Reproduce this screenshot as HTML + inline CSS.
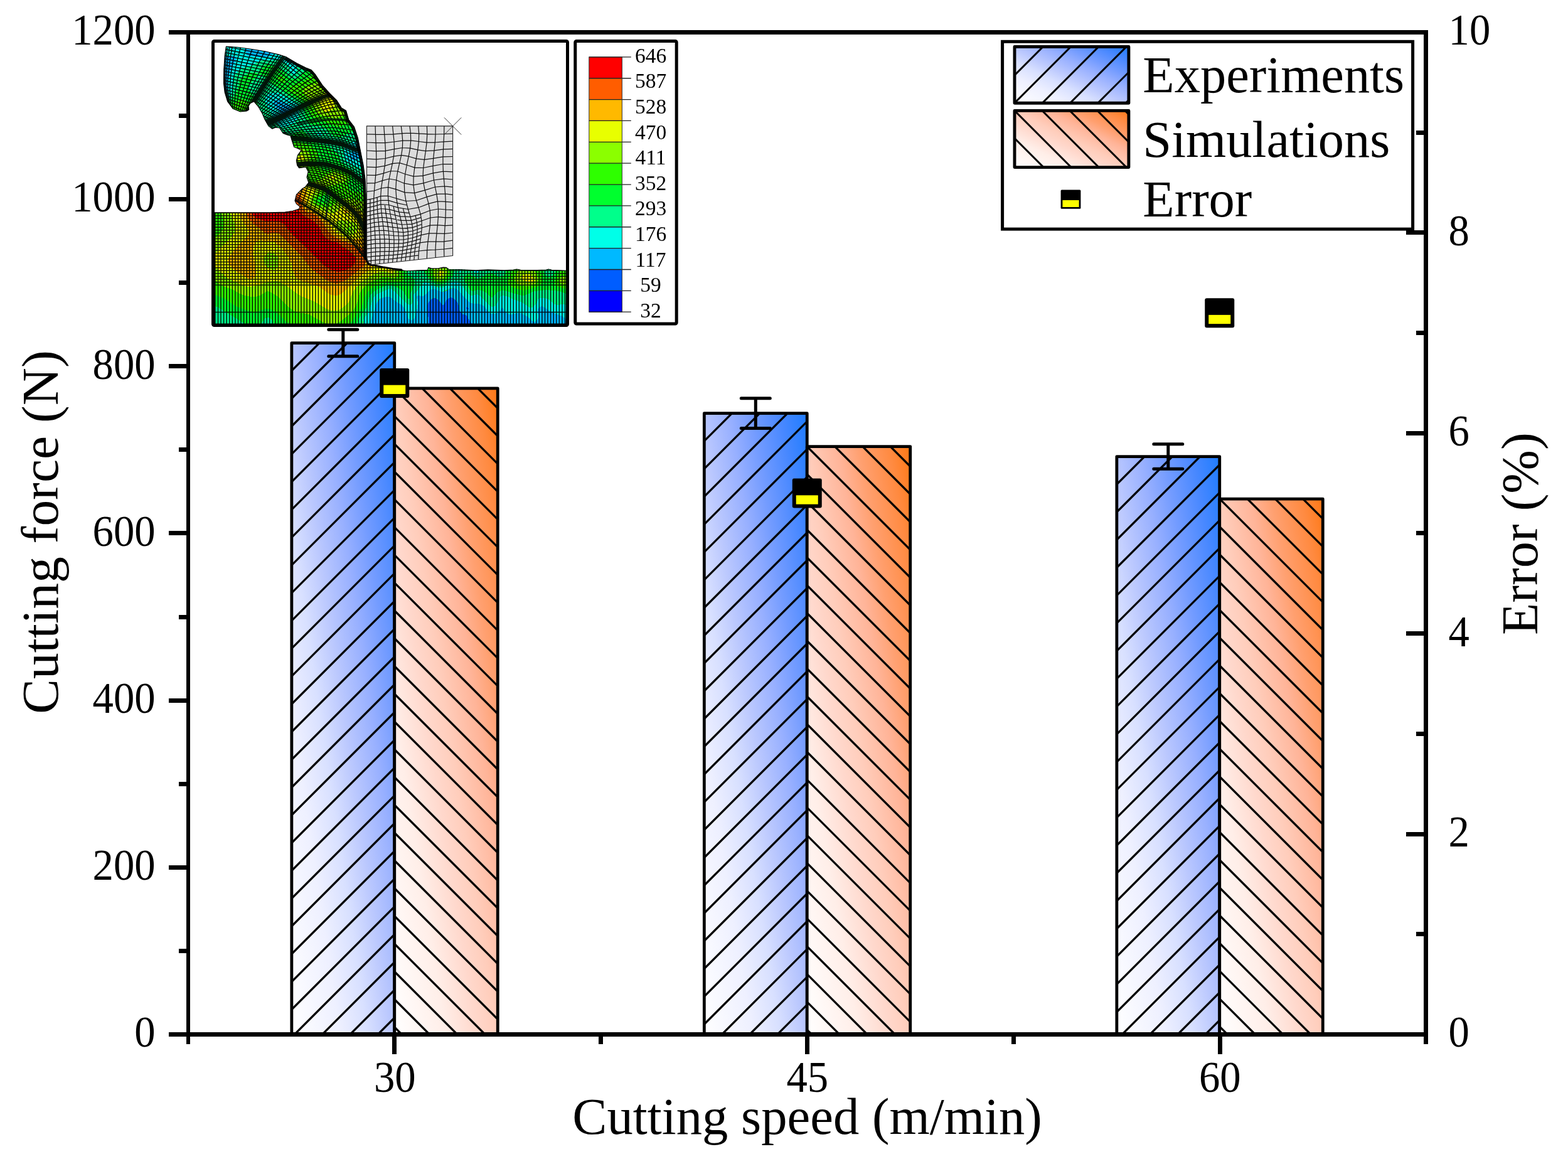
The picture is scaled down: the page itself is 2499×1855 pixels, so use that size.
<!DOCTYPE html>
<html lang="en"><head><meta charset="utf-8"><title>Cutting force vs cutting speed</title>
<style>html,body{margin:0;padding:0;background:#fff;}body{width:2499px;height:1855px;overflow:hidden;}svg{display:block;}text{font-family:'Liberation Serif','Times New Roman',serif;fill:#000;}</style>
</head><body>
<svg width="2499" height="1855" viewBox="0 0 2499 1855" role="img" aria-label="Cutting force and error versus cutting speed">
<defs>
<linearGradient id="gb" x1="0" y1="1" x2="1" y2="0"><stop offset="0" stop-color="#ffffff"/><stop offset="0.235" stop-color="#eef0ff"/><stop offset="0.37" stop-color="#d8e0ff"/><stop offset="0.48" stop-color="#bcc9fe"/><stop offset="0.62" stop-color="#98b0ff"/><stop offset="0.73" stop-color="#749cff"/><stop offset="0.87" stop-color="#4888ff"/><stop offset="1" stop-color="#1e7cff"/></linearGradient>
<linearGradient id="gr" x1="0" y1="1" x2="1" y2="0"><stop offset="0" stop-color="#ffffff"/><stop offset="0.25" stop-color="#ffeee8"/><stop offset="0.4" stop-color="#ffd8cc"/><stop offset="0.5" stop-color="#ffcdbb"/><stop offset="0.65" stop-color="#ffb498"/><stop offset="0.75" stop-color="#ffa070"/><stop offset="0.9" stop-color="#ff8a40"/><stop offset="1" stop-color="#ff7814"/></linearGradient>
</defs>
<rect x="0" y="0" width="2499" height="1855" fill="#ffffff"/>
<g id="bars">
<clipPath id="c1"><rect x="464.85" y="546.57" width="163.90" height="1101.93"/></clipPath>
<rect x="464.85" y="546.57" width="163.90" height="1101.93" fill="url(#gb)"/>
<path d="M459.85 595.83L514.11 541.57M459.85 640.09L558.37 541.57M459.85 684.35L602.63 541.57M459.85 728.61L646.89 541.57M459.85 772.87L691.15 541.57M459.85 817.13L735.41 541.57M459.85 861.39L779.67 541.57M459.85 905.65L823.93 541.57M459.85 949.91L868.19 541.57M459.85 994.17L912.45 541.57M459.85 1038.43L956.71 541.57M459.85 1082.69L1000.97 541.57M459.85 1126.95L1045.23 541.57M459.85 1171.21L1089.49 541.57M459.85 1215.47L1133.75 541.57M459.85 1259.73L1178.01 541.57M459.85 1303.99L1222.27 541.57M459.85 1348.25L1266.53 541.57M459.85 1392.51L1310.79 541.57M459.85 1436.77L1355.05 541.57M459.85 1481.03L1399.31 541.57M459.85 1525.29L1443.57 541.57M459.85 1569.55L1487.83 541.57M459.85 1613.81L1532.09 541.57M459.85 1658.07L1576.35 541.57M459.85 1702.33L1620.61 541.57M459.85 1746.59L1664.87 541.57M459.85 1790.85L1709.13 541.57M459.85 1835.11L1753.39 541.57" stroke="#000" stroke-width="3.30" fill="none" clip-path="url(#c1)"/>
<rect x="464.85" y="546.57" width="163.90" height="1101.93" fill="none" stroke="#000" stroke-width="4.80" stroke-linejoin="round"/>
<clipPath id="c2"><rect x="628.75" y="618.97" width="164.50" height="1029.53"/></clipPath>
<rect x="628.75" y="618.97" width="164.50" height="1029.53" fill="url(#gr)"/>
<path d="M623.75 436.93L798.25 611.43M623.75 481.19L798.25 655.69M623.75 525.45L798.25 699.95M623.75 569.71L798.25 744.21M623.75 613.97L798.25 788.47M623.75 658.23L798.25 832.73M623.75 702.49L798.25 876.99M623.75 746.75L798.25 921.25M623.75 791.01L798.25 965.51M623.75 835.27L798.25 1009.77M623.75 879.53L798.25 1054.03M623.75 923.79L798.25 1098.29M623.75 968.05L798.25 1142.55M623.75 1012.31L798.25 1186.81M623.75 1056.57L798.25 1231.07M623.75 1100.83L798.25 1275.33M623.75 1145.09L798.25 1319.59M623.75 1189.35L798.25 1363.85M623.75 1233.61L798.25 1408.11M623.75 1277.87L798.25 1452.37M623.75 1322.13L798.25 1496.63M623.75 1366.39L798.25 1540.89M623.75 1410.65L798.25 1585.15M623.75 1454.91L798.25 1629.41M623.75 1499.17L798.25 1673.67M623.75 1543.43L798.25 1717.93M623.75 1587.69L798.25 1762.19M623.75 1631.95L798.25 1806.45M623.75 1676.21L798.25 1850.71" stroke="#000" stroke-width="3.30" fill="none" clip-path="url(#c2)"/>
<rect x="628.75" y="618.97" width="164.50" height="1029.53" fill="none" stroke="#000" stroke-width="4.80" stroke-linejoin="round"/>
<clipPath id="c3"><rect x="1122.35" y="658.63" width="163.90" height="989.87"/></clipPath>
<rect x="1122.35" y="658.63" width="163.90" height="989.87" fill="url(#gb)"/>
<path d="M1117.35 707.89L1171.61 653.63M1117.35 752.15L1215.87 653.63M1117.35 796.41L1260.13 653.63M1117.35 840.67L1304.39 653.63M1117.35 884.93L1348.65 653.63M1117.35 929.19L1392.91 653.63M1117.35 973.45L1437.17 653.63M1117.35 1017.71L1481.43 653.63M1117.35 1061.97L1525.69 653.63M1117.35 1106.23L1569.95 653.63M1117.35 1150.49L1614.21 653.63M1117.35 1194.75L1658.47 653.63M1117.35 1239.01L1702.73 653.63M1117.35 1283.27L1746.99 653.63M1117.35 1327.53L1791.25 653.63M1117.35 1371.79L1835.51 653.63M1117.35 1416.05L1879.77 653.63M1117.35 1460.31L1924.03 653.63M1117.35 1504.57L1968.29 653.63M1117.35 1548.83L2012.55 653.63M1117.35 1593.09L2056.81 653.63M1117.35 1637.35L2101.07 653.63M1117.35 1681.61L2145.33 653.63M1117.35 1725.87L2189.59 653.63M1117.35 1770.13L2233.85 653.63M1117.35 1814.39L2278.11 653.63M1117.35 1858.65L2322.37 653.63" stroke="#000" stroke-width="3.30" fill="none" clip-path="url(#c3)"/>
<rect x="1122.35" y="658.63" width="163.90" height="989.87" fill="none" stroke="#000" stroke-width="4.80" stroke-linejoin="round"/>
<clipPath id="c4"><rect x="1286.25" y="711.59" width="164.50" height="936.91"/></clipPath>
<rect x="1286.25" y="711.59" width="164.50" height="936.91" fill="url(#gr)"/>
<path d="M1281.25 529.55L1455.75 704.05M1281.25 573.81L1455.75 748.31M1281.25 618.07L1455.75 792.57M1281.25 662.33L1455.75 836.83M1281.25 706.59L1455.75 881.09M1281.25 750.85L1455.75 925.35M1281.25 795.11L1455.75 969.61M1281.25 839.37L1455.75 1013.87M1281.25 883.63L1455.75 1058.13M1281.25 927.89L1455.75 1102.39M1281.25 972.15L1455.75 1146.65M1281.25 1016.41L1455.75 1190.91M1281.25 1060.67L1455.75 1235.17M1281.25 1104.93L1455.75 1279.43M1281.25 1149.19L1455.75 1323.69M1281.25 1193.45L1455.75 1367.95M1281.25 1237.71L1455.75 1412.21M1281.25 1281.97L1455.75 1456.47M1281.25 1326.23L1455.75 1500.73M1281.25 1370.49L1455.75 1544.99M1281.25 1414.75L1455.75 1589.25M1281.25 1459.01L1455.75 1633.51M1281.25 1503.27L1455.75 1677.77M1281.25 1547.53L1455.75 1722.03M1281.25 1591.79L1455.75 1766.29M1281.25 1636.05L1455.75 1810.55M1281.25 1680.31L1455.75 1854.81" stroke="#000" stroke-width="3.30" fill="none" clip-path="url(#c4)"/>
<rect x="1286.25" y="711.59" width="164.50" height="936.91" fill="none" stroke="#000" stroke-width="4.80" stroke-linejoin="round"/>
<clipPath id="c5"><rect x="1779.85" y="727.56" width="163.90" height="920.94"/></clipPath>
<rect x="1779.85" y="727.56" width="163.90" height="920.94" fill="url(#gb)"/>
<path d="M1774.85 776.82L1829.11 722.56M1774.85 821.08L1873.37 722.56M1774.85 865.34L1917.63 722.56M1774.85 909.60L1961.89 722.56M1774.85 953.86L2006.15 722.56M1774.85 998.12L2050.41 722.56M1774.85 1042.38L2094.67 722.56M1774.85 1086.64L2138.93 722.56M1774.85 1130.90L2183.19 722.56M1774.85 1175.16L2227.45 722.56M1774.85 1219.42L2271.71 722.56M1774.85 1263.68L2315.97 722.56M1774.85 1307.94L2360.23 722.56M1774.85 1352.20L2404.49 722.56M1774.85 1396.46L2448.75 722.56M1774.85 1440.72L2493.01 722.56M1774.85 1484.98L2537.27 722.56M1774.85 1529.24L2581.53 722.56M1774.85 1573.50L2625.79 722.56M1774.85 1617.76L2670.05 722.56M1774.85 1662.02L2714.31 722.56M1774.85 1706.28L2758.57 722.56M1774.85 1750.54L2802.83 722.56M1774.85 1794.80L2847.09 722.56M1774.85 1839.06L2891.35 722.56" stroke="#000" stroke-width="3.30" fill="none" clip-path="url(#c5)"/>
<rect x="1779.85" y="727.56" width="163.90" height="920.94" fill="none" stroke="#000" stroke-width="4.80" stroke-linejoin="round"/>
<clipPath id="c6"><rect x="1943.75" y="795.04" width="164.50" height="853.46"/></clipPath>
<rect x="1943.75" y="795.04" width="164.50" height="853.46" fill="url(#gr)"/>
<path d="M1938.75 613.00L2113.25 787.50M1938.75 657.26L2113.25 831.76M1938.75 701.52L2113.25 876.02M1938.75 745.78L2113.25 920.28M1938.75 790.04L2113.25 964.54M1938.75 834.30L2113.25 1008.80M1938.75 878.56L2113.25 1053.06M1938.75 922.82L2113.25 1097.32M1938.75 967.08L2113.25 1141.58M1938.75 1011.34L2113.25 1185.84M1938.75 1055.60L2113.25 1230.10M1938.75 1099.86L2113.25 1274.36M1938.75 1144.12L2113.25 1318.62M1938.75 1188.38L2113.25 1362.88M1938.75 1232.64L2113.25 1407.14M1938.75 1276.90L2113.25 1451.40M1938.75 1321.16L2113.25 1495.66M1938.75 1365.42L2113.25 1539.92M1938.75 1409.68L2113.25 1584.18M1938.75 1453.94L2113.25 1628.44M1938.75 1498.20L2113.25 1672.70M1938.75 1542.46L2113.25 1716.96M1938.75 1586.72L2113.25 1761.22M1938.75 1630.98L2113.25 1805.48M1938.75 1675.24L2113.25 1849.74" stroke="#000" stroke-width="3.30" fill="none" clip-path="url(#c6)"/>
<rect x="1943.75" y="795.04" width="164.50" height="853.46" fill="none" stroke="#000" stroke-width="4.80" stroke-linejoin="round"/>
</g>
<g id="errorbars" stroke="#000" stroke-width="5" stroke-linecap="round" fill="none">
<path d="M546.80 525.28L546.80 567.86M523.80 525.28L569.80 525.28M523.80 567.86L569.80 567.86" />
<path d="M1204.30 634.80L1204.30 682.45M1181.30 634.80L1227.30 634.80M1181.30 682.45L1227.30 682.45" />
<path d="M1861.80 707.87L1861.80 747.26M1838.80 707.87L1884.80 707.87M1838.80 747.26L1884.80 747.26" />
</g>
<g id="axes" fill="#000" shape-rendering="crispEdges">
<rect x="297" y="48" width="6" height="1616"/>
<rect x="2269" y="48" width="7" height="1616"/>
<rect x="269" y="48" width="2007" height="7"/>
<rect x="269" y="1645" width="2007" height="7"/>
<rect x="285" y="1512" width="14" height="7"/>
<rect x="269" y="1379" width="30" height="7"/>
<rect x="285" y="1246" width="14" height="7"/>
<rect x="269" y="1113" width="30" height="7"/>
<rect x="285" y="980" width="14" height="7"/>
<rect x="269" y="846" width="30" height="7"/>
<rect x="285" y="713" width="14" height="7"/>
<rect x="269" y="580" width="30" height="7"/>
<rect x="285" y="447" width="14" height="7"/>
<rect x="269" y="314" width="30" height="7"/>
<rect x="285" y="181" width="14" height="7"/>
<rect x="2257" y="1485" width="14" height="7"/>
<rect x="2240.5" y="1326" width="30" height="7"/>
<rect x="2257" y="1166" width="14" height="7"/>
<rect x="2240.5" y="1006" width="30" height="7"/>
<rect x="2257" y="846" width="14" height="7"/>
<rect x="2240.5" y="687" width="30" height="7"/>
<rect x="2257" y="527" width="14" height="7"/>
<rect x="2240.5" y="367" width="30" height="7"/>
<rect x="2257" y="208" width="14" height="7"/>
<rect x="625" y="1650" width="7" height="30"/>
<rect x="1283" y="1650" width="7" height="30"/>
<rect x="1941" y="1650" width="7" height="30"/>
<rect x="954" y="1650" width="7" height="14"/>
<rect x="1612" y="1650" width="7" height="14"/>
</g>
<g id="markers">
<rect x="605.25" y="586.95" width="47.00" height="47.00" rx="3.0" ry="3.0" fill="#000"/>
<rect x="611.25" y="613.65" width="35.00" height="14.30" fill="#ffff00"/>
<rect x="1262.75" y="762.62" width="47.00" height="47.00" rx="3.0" ry="3.0" fill="#000"/>
<rect x="1268.75" y="789.32" width="35.00" height="14.30" fill="#ffff00"/>
<rect x="1920.25" y="475.16" width="47.00" height="47.00" rx="3.0" ry="3.0" fill="#000"/>
<rect x="1926.25" y="501.86" width="35.00" height="14.30" fill="#ffff00"/>
</g>
<g id="ticklabels">
<text transform="translate(247.60 1668.30) scale(0.9600 1)" font-size="69.50" text-anchor="end">0</text>
<text transform="translate(247.60 1402.13) scale(0.9600 1)" font-size="69.50" text-anchor="end">200</text>
<text transform="translate(247.60 1135.97) scale(0.9600 1)" font-size="69.50" text-anchor="end">400</text>
<text transform="translate(247.60 869.80) scale(0.9600 1)" font-size="69.50" text-anchor="end">600</text>
<text transform="translate(247.60 603.63) scale(0.9600 1)" font-size="69.50" text-anchor="end">800</text>
<text transform="translate(247.60 337.47) scale(0.9600 1)" font-size="69.50" text-anchor="end">1000</text>
<text transform="translate(247.60 71.30) scale(0.9600 1)" font-size="69.50" text-anchor="end">1200</text>
<text transform="translate(2308.60 1668.30) scale(0.9600 1)" font-size="69.50" text-anchor="start">0</text>
<text transform="translate(2308.60 1348.90) scale(0.9600 1)" font-size="69.50" text-anchor="start">2</text>
<text transform="translate(2308.60 1029.50) scale(0.9600 1)" font-size="69.50" text-anchor="start">4</text>
<text transform="translate(2308.60 710.10) scale(0.9600 1)" font-size="69.50" text-anchor="start">6</text>
<text transform="translate(2308.60 390.70) scale(0.9600 1)" font-size="69.50" text-anchor="start">8</text>
<text transform="translate(2308.60 71.30) scale(0.9600 1)" font-size="69.50" text-anchor="start">10</text>
<text transform="translate(629.25 1739.60) scale(0.9600 1)" font-size="69.50" text-anchor="middle">30</text>
<text transform="translate(1286.75 1739.60) scale(0.9600 1)" font-size="69.50" text-anchor="middle">45</text>
<text transform="translate(1944.25 1739.60) scale(0.9600 1)" font-size="69.50" text-anchor="middle">60</text>
</g>
<g id="titles">
<text transform="translate(1286.55 1807.30) scale(0.9960 1)" font-size="83.00" text-anchor="middle">Cutting speed (m/min)</text>
<text transform="translate(91.80 848.00) rotate(-90) scale(1.0060 1)" font-size="83.00" text-anchor="middle">Cutting force (N)</text>
<text transform="translate(2449.80 850.50) rotate(-90) scale(1.0080 1)" font-size="83.00" text-anchor="middle">Error (%)</text>
</g>
<g id="legend">
<rect x="1597.6" y="66.3" width="654" height="298.8" fill="#fff" stroke="#000" stroke-width="5"/>
<clipPath id="c7"><rect x="1617.00" y="74.50" width="181.90" height="89.70"/></clipPath>
<rect x="1617.00" y="74.50" width="181.90" height="89.70" fill="url(#gb)"/>
<path d="M1612.00 124.80L1667.30 69.50M1612.00 169.10L1711.60 69.50M1612.00 213.40L1755.90 69.50M1612.00 257.70L1800.20 69.50M1612.00 302.00L1844.50 69.50M1612.00 346.30L1888.80 69.50M1612.00 390.60L1933.10 69.50" stroke="#000" stroke-width="3.00" fill="none" clip-path="url(#c7)"/>
<rect x="1617.00" y="74.50" width="181.90" height="89.70" fill="none" stroke="#000" stroke-width="4.90" stroke-linejoin="round"/>
<clipPath id="c8"><rect x="1617.00" y="176.40" width="181.90" height="90.20"/></clipPath>
<rect x="1617.00" y="176.40" width="181.90" height="90.20" fill="url(#gr)"/>
<path d="M1612.00 -48.60L1803.90 143.30M1612.00 -4.60L1803.90 187.30M1612.00 39.40L1803.90 231.30M1612.00 83.40L1803.90 275.30M1612.00 127.40L1803.90 319.30M1612.00 171.40L1803.90 363.30M1612.00 215.40L1803.90 407.30M1612.00 259.40L1803.90 451.30M1612.00 303.40L1803.90 495.30" stroke="#000" stroke-width="3.00" fill="none" clip-path="url(#c8)"/>
<rect x="1617.00" y="176.40" width="181.90" height="90.20" fill="none" stroke="#000" stroke-width="4.90" stroke-linejoin="round"/>
<rect x="1690.6" y="302.6" width="31.8" height="30.2" rx="1.5" fill="#000"/>
<rect x="1693.4" y="319" width="26.2" height="11" fill="#ffff00"/>
<text transform="translate(1821.30 147.40) scale(1.0120 1)" font-size="81.50" text-anchor="start">Experiments</text>
<text transform="translate(1821.30 250.20) scale(1.0120 1)" font-size="81.50" text-anchor="start">Simulations</text>
<text transform="translate(1821.30 344.50) scale(1.0120 1)" font-size="81.50" text-anchor="start">Error</text>
</g>
<g id="inset">
<defs>
<clipPath id="cm"><path d="M342.0 516.0L342.0 338.7L430.0 338.7L454.2 338.0L466.3 336.2L476.0 333.2L478.4 329.6L472.4 324.7L470.0 319.9L472.4 310.2L482.1 300.5L486.1 298.3L491.9 291.0L489.0 282.3L491.2 273.6L487.5 266.3L476.7 267.8L473.7 263.4L472.3 256.1L474.5 247.4L480.3 239.4L474.5 236.5L468.7 234.3L465.8 225.6L462.9 216.2L457.0 214.7L451.2 212.5L445.4 203.8L439.6 203.1L433.8 205.3L428.0 200.9L422.2 190.8L417.8 180.6L412.0 170.4L404.7 161.7L398.9 164.6L396.0 169.0L396.7 174.8L393.1 177.0L382.9 178.0L371.3 173.3L362.6 161.7L358.2 147.2L356.5 132.6L356.8 110.8L358.2 89.1L360.4 74.1L378.6 75.3L400.4 78.2L422.2 81.8L444.0 86.9L455.6 90.5L473.0 100.7L487.5 107.9L496.3 111.6L502.1 118.1L513.7 135.5L525.3 148.6L536.9 160.2L544.2 171.9L551.5 176.2L555.8 190.8L564.6 202.4L570.4 219.8L574.7 241.6L579.1 263.4L582.0 285.2L583.2 310.0L583.6 340.0L583.4 370.0L583.3 400.0L584.2 411.0L585.6 417.5L587.5 421.0L592.0 422.4L600.0 423.5L610.0 425.5L620.0 427.3L632.0 429.2L647.6 431.8L667.1 430.8L681.4 430.3L682.7 426.4L688.0 427.9L698.4 427.9L706.2 426.0L711.4 426.4L715.3 429.2L732.2 429.5L758.3 430.8L777.8 429.9L803.9 430.8L818.2 430.0L823.4 429.0L830.0 430.3L856.0 430.5L870.3 430.0L874.2 429.0L879.5 430.3L902.9 431.2L902.0 516.0Z"/></clipPath>
<clipPath id="cw"><path d="M342.0 338.7L430.0 338.7L454.2 338.0L466.3 336.2L476.0 333.2L478.4 324.7L502.6 339.3L526.9 356.2L551.1 376.8L569.2 397.4L578.0 409.0L585.5 419.0L587.5 421.0L592.0 422.4L600.0 423.5L610.0 425.5L620.0 427.3L632.0 429.2L647.6 431.8L667.1 430.8L681.4 430.3L682.7 426.4L688.0 427.9L698.4 427.9L706.2 426.0L711.4 426.4L715.3 429.2L732.2 429.5L758.3 430.8L777.8 429.9L803.9 430.8L818.2 430.0L823.4 429.0L830.0 430.3L856.0 430.5L870.3 430.0L874.2 429.0L879.5 430.3L902.9 431.2L902.0 516.0L342.0 516.0Z"/></clipPath>
<clipPath id="cc"><path d="M360.4 74.1L358.2 89.1L356.8 110.8L356.5 132.6L358.2 147.2L362.6 161.7L371.3 173.3L382.9 178.0L393.1 177.0L396.7 174.8L396.0 169.0L398.9 164.6L404.7 161.7L412.0 170.4L417.8 180.6L422.2 190.8L428.0 200.9L433.8 205.3L439.6 203.1L445.4 203.8L451.2 212.5L457.0 214.7L462.9 216.2L465.8 225.6L468.7 234.3L474.5 236.5L480.3 239.4L474.5 247.4L472.3 256.1L473.7 263.4L476.7 267.8L487.5 266.3L491.2 273.6L489.0 282.3L491.9 291.0L486.1 298.3L482.1 300.5L472.4 310.2L470.0 319.9L472.4 324.7L478.4 329.6L476.0 333.2L476.0 333.2L478.4 324.7L502.6 339.3L526.9 356.2L551.1 376.8L569.2 397.4L578.0 409.0L585.5 419.0L587.5 421.0L585.6 417.5L584.2 411.0L583.3 400.0L583.4 370.0L583.6 340.0L583.2 310.0L582.0 285.2L579.1 263.4L574.7 241.6L570.4 219.8L564.6 202.4L555.8 190.8L551.5 176.2L544.2 171.9L536.9 160.2L525.3 148.6L513.7 135.5L502.1 118.1L496.3 111.6L487.5 107.9L473.0 100.7L455.6 90.5L444.0 86.9L422.2 81.8L400.4 78.2L378.6 75.3L360.4 74.1Z"/></clipPath>
</defs>
<rect x="339.5" y="65.5" width="565" height="453" fill="#fff"/>
<g clip-path="url(#cm)" shape-rendering="crispEdges">
<path d="M342.0 516.0L342.0 338.7L430.0 338.7L454.2 338.0L466.3 336.2L476.0 333.2L478.4 329.6L472.4 324.7L470.0 319.9L472.4 310.2L482.1 300.5L486.1 298.3L491.9 291.0L489.0 282.3L491.2 273.6L487.5 266.3L476.7 267.8L473.7 263.4L472.3 256.1L474.5 247.4L480.3 239.4L474.5 236.5L468.7 234.3L465.8 225.6L462.9 216.2L457.0 214.7L451.2 212.5L445.4 203.8L439.6 203.1L433.8 205.3L428.0 200.9L422.2 190.8L417.8 180.6L412.0 170.4L404.7 161.7L398.9 164.6L396.0 169.0L396.7 174.8L393.1 177.0L382.9 178.0L371.3 173.3L362.6 161.7L358.2 147.2L356.5 132.6L356.8 110.8L358.2 89.1L360.4 74.1L378.6 75.3L400.4 78.2L422.2 81.8L444.0 86.9L455.6 90.5L473.0 100.7L487.5 107.9L496.3 111.6L502.1 118.1L513.7 135.5L525.3 148.6L536.9 160.2L544.2 171.9L551.5 176.2L555.8 190.8L564.6 202.4L570.4 219.8L574.7 241.6L579.1 263.4L582.0 285.2L583.2 310.0L583.6 340.0L583.4 370.0L583.3 400.0L584.2 411.0L585.6 417.5L587.5 421.0L592.0 422.4L600.0 423.5L610.0 425.5L620.0 427.3L632.0 429.2L647.6 431.8L667.1 430.8L681.4 430.3L682.7 426.4L688.0 427.9L698.4 427.9L706.2 426.0L711.4 426.4L715.3 429.2L732.2 429.5L758.3 430.8L777.8 429.9L803.9 430.8L818.2 430.0L823.4 429.0L830.0 430.3L856.0 430.5L870.3 430.0L874.2 429.0L879.5 430.3L902.9 431.2L902.0 516.0Z" fill="#2eff00"/>
<path fill="#005dff" fill-rule="evenodd" d="M415 66 428 66 429 72 428 76 426 80 424 83 422 84 420 83 417 80 415 74 415 66ZM688 476 692 475 696 476 701 480 704 485 706 486 708 485 711 478 714 476 718 474 720 474 724 476 728 480 730 484 731 488 732 494 734 498 736 500 744 503 750 514 756 520 682 520 683 510 681 488 682 482 688 476ZM743 490 744 489 746 490 747 492 746 494 744 493 743 490Z"/>
<path fill="#00b9ff" fill-rule="evenodd" d="M336 66 352 66 350 72 350 76 351 80 354 84 360 88 364 89 372 89 375 90 376 92 377 94 376 98 367 116 363 134 364 144 362 147 360 148 336 149 336 66ZM380 66 415 66 415 72 416 78 418 82 422 84 425 82 428 76 429 72 428 66 466 66 462 72 454 78 432 88 426 90 420 91 398 90 394 89 390 77 380 66ZM823 134 824 133 825 134 824 138 822 144 824 152 823 158 815 172 812 180 810 188 806 196 799 214 794 223 780 240 772 247 770 248 768 247 765 242 765 238 771 218 776 210 777 196 783 182 784 177 792 164 798 159 810 148 816 140 823 134ZM438 160 442 159 444 159 459 166 463 170 465 174 465 178 464 180 460 183 456 184 453 184 450 183 446 179 436 166 435 164 436 162 438 160ZM760 202 760 202 761 204 760 206 756 215 746 228 742 240 733 252 739 256 739 258 737 262 733 268 728 277 716 290 712 293 710 293 710 290 712 283 715 278 721 272 720 266 724 260 724 258 719 260 712 265 710 266 708 264 709 260 715 252 722 244 738 230 739 228 742 220 754 210 760 202ZM562 242 568 242 571 244 572 246 572 250 571 252 568 255 566 255 562 255 558 252 557 250 557 248 558 245 562 242ZM717 460 722 459 727 460 732 464 740 474 749 482 754 484 762 484 768 486 772 488 778 497 780 499 784 500 788 500 792 499 796 496 800 490 802 491 804 496 808 500 814 501 826 499 830 499 840 504 848 512 852 513 856 510 858 506 857 494 858 491 860 489 864 488 868 490 878 497 896 504 908 512 908 520 756 520 750 514 744 503 736 500 734 498 732 494 731 486 728 480 722 475 718 474 714 476 712 477 708 485 706 486 704 485 701 480 699 478 694 475 690 475 684 480 682 484 681 488 683 510 682 520 592 520 591 514 591 510 595 500 598 488 602 480 606 476 614 473 620 473 624 475 632 481 640 486 642 488 645 492 651 508 654 510 656 510 658 509 661 506 664 497 666 482 664 474 664 472 666 471 674 472 677 470 684 463 688 461 694 461 700 464 704 465 710 464 717 460ZM744 489 743 490 743 492 746 494 747 492 746 490 744 489Z"/>
<path fill="#00ffe8" fill-rule="evenodd" d="M352 66 380 66 390 77 394 89 398 90 420 91 426 90 432 88 454 78 462 72 466 66 489 66 487 72 475 100 472 114 470 118 468 119 466 119 464 118 461 108 459 104 454 100 450 98 442 96 426 96 420 96 414 98 402 104 388 108 379 114 375 118 373 124 371 144 368 151 364 155 360 157 336 169 336 149 358 149 361 148 363 146 363 134 366 118 368 112 376 96 376 92 374 90 360 88 356 86 352 82 350 78 350 74 352 66ZM855 96 856 96 857 98 855 102 838 135 834 148 828 160 826 167 828 168 832 167 836 165 847 154 860 146 870 134 874 130 887 124 896 113 901 108 908 100 908 116 904 119 892 132 886 134 880 137 879 138 871 154 858 169 846 182 837 192 832 197 824 202 818 210 802 228 792 243 774 262 768 265 766 265 764 262 762 255 760 253 758 254 748 262 736 282 734 288 730 293 723 298 711 304 706 308 704 309 700 306 692 305 686 302 684 302 680 303 676 306 672 307 673 300 678 289 680 286 687 280 692 272 698 257 705 250 711 236 718 227 722 223 728 221 733 216 742 206 754 197 772 178 776 175 780 174 782 172 786 166 797 146 806 132 810 129 816 128 836 110 844 103 855 96ZM760 202 758 203 754 210 742 220 739 228 738 230 722 244 715 252 709 260 708 264 710 266 712 265 719 260 724 258 724 260 720 266 721 272 715 278 712 283 710 290 710 293 712 293 716 290 728 277 733 268 737 262 739 258 739 256 733 252 742 240 746 228 756 215 760 206 761 204 760 202ZM768 208 767 210 768 211 769 210 770 208 768 208ZM824 133 816 140 810 148 792 164 784 177 783 182 777 196 776 210 771 218 765 238 765 242 768 247 770 248 772 247 780 240 794 223 799 214 806 196 810 188 812 180 815 172 823 158 824 152 822 144 825 136 825 134 824 133ZM415 134 418 134 420 136 421 138 420 140 418 141 416 141 414 140 413 136 415 134ZM429 148 432 147 438 147 446 149 470 164 475 168 476 172 477 176 476 186 472 192 466 198 459 202 452 203 446 202 442 199 439 196 434 187 430 176 426 170 423 164 423 158 423 154 426 150 429 148ZM438 160 436 162 435 164 436 166 446 179 450 183 453 184 456 184 460 183 464 180 465 178 465 174 463 170 459 166 444 159 442 159 438 160ZM507 210 510 210 512 211 513 214 512 216 510 217 508 217 506 215 505 212 507 210ZM562 226 572 224 582 225 592 228 599 232 600 234 600 240 603 246 602 254 605 260 604 263 600 265 594 267 586 269 580 269 566 265 558 262 553 258 549 254 548 250 548 242 549 236 551 232 554 230 562 226ZM562 242 558 245 557 248 557 250 558 252 562 255 566 255 568 255 571 252 572 250 572 246 571 244 568 242 562 242ZM660 290 660 289 662 290 663 292 663 294 662 297 658 300 654 300 653 298 660 290ZM753 418 756 416 760 417 764 419 767 422 767 428 765 432 762 434 760 435 756 434 751 428 750 424 750 422 753 418ZM795 428 798 429 798 433 796 433 795 432 794 430 795 428ZM732 432 734 431 735 432 734 434 732 435 732 432ZM724 448 728 448 732 451 740 459 744 466 748 470 752 471 760 469 764 471 768 474 779 486 784 489 788 488 790 486 793 482 798 472 802 471 810 473 820 478 832 482 844 490 848 490 852 487 856 482 858 476 862 475 868 475 874 477 884 485 888 486 898 485 908 488 908 512 896 504 878 497 868 490 864 488 860 489 858 491 857 494 858 506 856 510 852 513 848 512 840 504 830 499 826 499 814 501 808 500 804 496 802 491 800 490 796 496 792 499 788 500 784 500 780 499 778 497 772 488 768 486 762 484 754 484 749 482 740 474 732 464 727 460 722 459 718 459 708 464 704 465 700 464 694 461 688 461 684 463 677 470 674 472 666 471 664 472 664 474 666 482 664 497 661 506 658 509 656 510 654 510 651 508 645 492 642 488 640 486 632 481 624 475 620 473 616 473 608 475 603 478 598 488 595 500 591 510 591 514 592 520 578 520 579 510 589 494 595 474 598 470 602 468 618 461 622 460 624 461 628 464 646 482 650 485 654 486 656 485 658 481 658 472 660 468 668 460 675 450 678 449 680 450 690 455 700 458 704 458 710 456 720 449 724 448Z"/>
<path fill="#00ff8b" fill-rule="evenodd" d="M489 66 527 66 514 84 481 120 476 124 472 126 468 126 464 126 460 123 452 113 446 109 439 106 424 103 421 104 419 106 412 117 402 116 398 116 394 118 382 126 381 136 374 152 371 156 361 166 353 178 347 190 342 204 340 206 336 206 336 169 360 157 364 155 368 151 371 144 373 124 375 118 379 114 388 108 402 104 418 97 424 96 440 96 450 98 456 101 461 108 464 118 466 119 468 119 470 118 472 114 475 100 487 72 489 66ZM618 66 626 66 622 67 618 66ZM819 66 873 66 872 74 868 84 864 106 858 120 844 144 843 148 844 148 846 148 856 143 867 130 876 123 884 118 892 110 898 106 906 96 908 95 908 100 901 108 896 113 887 124 874 130 870 134 860 146 847 154 838 163 832 167 828 168 826 167 827 164 834 148 839 134 854 104 856 100 856 96 854 97 842 105 834 111 816 128 810 129 806 132 797 146 786 166 782 172 780 174 776 175 772 178 754 197 742 206 733 216 726 222 720 225 712 234 706 248 698 257 692 272 687 280 680 286 677 290 673 300 672 306 672 307 674 307 680 303 684 302 686 302 692 305 700 306 704 309 706 308 711 304 723 298 730 293 734 288 736 282 748 262 758 254 760 253 762 255 764 262 766 265 768 265 774 262 792 243 802 228 818 210 824 202 832 197 837 192 846 182 858 169 871 154 879 138 880 137 886 134 892 132 904 119 908 116 908 261 900 272 898 261 896 264 870 326 864 338 864 332 875 298 875 294 874 294 872 298 871 302 866 311 863 320 856 334 855 338 848 352 845 362 844 365 840 367 838 370 832 378 815 408 812 414 806 434 804 438 800 441 796 442 786 436 780 436 776 437 768 442 762 444 758 443 750 438 746 437 742 439 740 441 739 444 741 448 750 463 754 464 762 462 768 463 774 466 782 473 784 474 792 466 796 464 800 463 804 463 824 469 832 471 838 470 850 464 856 463 872 462 892 464 908 471 908 488 898 485 888 486 884 485 874 477 868 475 862 475 858 476 856 482 852 487 848 490 844 490 832 482 820 478 810 473 802 471 798 472 793 482 790 486 788 488 784 489 779 486 768 474 764 471 760 469 752 471 748 470 744 466 738 457 732 451 728 448 722 449 710 456 706 458 702 458 688 454 678 449 676 450 674 451 668 460 660 468 658 472 658 481 656 485 654 486 650 485 646 482 628 464 624 461 622 460 618 461 600 469 595 474 589 494 580 508 578 514 578 520 567 520 573 506 584 490 589 472 594 466 602 461 616 455 622 455 628 456 633 458 640 462 644 466 650 476 652 476 654 474 654 468 660 456 661 450 661 446 660 444 650 438 648 434 649 428 650 426 654 422 660 421 664 421 668 423 674 429 680 440 683 444 690 450 696 453 702 453 708 452 714 448 720 442 722 438 727 420 730 402 729 398 726 394 719 378 719 374 721 364 722 354 726 344 727 332 729 324 732 321 734 321 735 322 737 326 739 332 739 346 740 354 747 374 750 377 752 378 758 377 759 378 760 387 762 389 768 388 772 389 780 392 784 395 786 395 785 378 782 368 782 358 786 358 794 346 796 345 798 347 800 353 802 354 811 342 812 334 818 322 828 298 832 280 833 274 835 262 842 251 848 238 849 232 862 194 864 188 871 168 871 162 870 161 866 164 862 170 848 184 840 194 827 204 805 232 796 260 793 280 783 298 779 334 776 343 774 343 772 341 770 334 768 316 766 310 765 300 761 282 761 274 760 268 760 267 758 266 744 281 741 288 736 295 733 304 731 306 719 316 708 322 704 323 700 321 698 321 686 324 676 328 664 330 663 328 664 318 662 315 660 314 658 314 650 319 645 324 642 330 638 332 637 332 635 328 632 326 630 324 632 317 637 308 638 302 640 300 650 294 654 290 659 282 660 274 662 272 670 269 676 263 680 261 684 257 686 256 688 256 689 260 682 268 677 282 678 282 684 278 690 267 691 262 694 256 696 250 710 230 717 216 724 207 737 192 772 149 774 147 776 147 777 154 778 155 784 152 788 146 794 138 801 124 806 117 819 92 819 90 818 89 812 91 806 95 805 94 806 92 816 78 817 70 819 66ZM820 88 820 88 820 88ZM732 431 731 434 732 435 734 434 735 432 734 431 732 431ZM754 417 750 422 750 424 751 428 756 434 760 435 762 434 765 432 767 428 767 422 764 419 760 417 756 416 754 417ZM796 428 794 430 796 433 798 432 798 429 796 428ZM660 289 653 298 654 300 658 300 662 297 663 294 663 292 662 290 660 289ZM410 120 412 118 414 118 420 121 437 136 450 143 460 152 476 161 480 165 483 170 489 192 492 197 496 199 510 201 516 203 521 206 530 216 534 219 538 219 542 219 568 207 584 203 614 202 636 203 640 204 640 206 638 214 638 218 642 222 644 223 650 224 653 226 656 232 655 238 656 244 646 254 645 258 644 259 639 262 637 264 638 266 648 270 647 272 629 280 604 286 596 289 578 289 572 285 566 276 561 272 545 260 543 256 541 248 538 244 524 234 508 228 500 224 493 218 484 208 482 207 480 208 468 213 456 217 444 215 434 210 423 202 418 190 415 178 409 162 405 154 396 142 395 140 395 138 398 134 410 120ZM416 133 414 135 413 138 414 140 416 141 418 141 420 140 420 136 418 134 416 133ZM430 148 426 150 424 153 423 156 423 162 425 168 430 176 434 186 438 194 443 200 450 203 456 203 464 200 472 193 476 186 477 176 476 172 475 168 470 164 446 149 438 147 430 148ZM508 209 506 211 505 214 508 217 510 217 512 216 513 214 513 212 511 210 508 209ZM564 226 558 227 554 230 551 232 549 236 548 242 548 250 549 254 552 257 558 262 564 265 578 268 584 269 592 268 600 265 604 263 605 260 602 254 603 246 600 240 600 234 599 232 592 228 582 225 572 224 564 226ZM768 208 770 208 769 210 768 211 767 210 768 208ZM874 414 878 413 882 414 885 418 886 424 886 430 883 436 880 440 876 442 872 441 870 439 867 434 867 430 867 426 868 421 870 417 874 414ZM336 488 336 487 342 488 348 490 364 500 376 507 396 520 336 520 336 488ZM424 506 428 506 432 508 435 512 438 520 412 520 416 517 421 508 424 506Z"/>
<path fill="#00ff2e" fill-rule="evenodd" d="M526 68 527 66 618 66 622 67 626 66 651 66 649 68 642 74 626 85 612 93 604 94 592 94 579 100 566 104 563 104 563 102 567 90 570 82 570 81 564 78 560 79 550 84 520 103 498 120 484 129 476 133 466 136 462 138 462 142 464 148 476 154 484 160 489 168 496 182 500 187 508 191 530 199 540 202 546 200 557 196 580 184 595 178 617 168 650 151 656 149 682 145 718 128 736 123 742 120 770 111 792 103 794 101 795 100 794 99 792 99 765 106 750 111 726 121 693 128 668 136 662 139 653 140 628 149 624 149 612 147 610 146 610 144 617 130 629 110 648 94 656 88 680 66 819 66 817 70 816 78 806 92 805 94 806 95 812 91 818 89 819 90 819 92 806 117 801 124 796 134 790 144 784 152 778 155 777 154 776 147 774 147 772 149 737 192 724 207 717 216 710 230 696 250 694 256 691 262 690 267 684 278 678 282 677 282 682 268 689 260 688 256 686 256 684 257 680 261 676 263 670 269 662 272 660 274 659 280 655 288 650 294 640 300 638 302 637 310 632 318 630 324 632 326 635 328 637 332 638 332 642 330 647 322 658 314 660 314 662 315 664 318 663 328 664 330 676 328 686 324 698 321 700 321 704 323 706 323 716 318 731 306 733 304 736 295 741 288 744 281 758 266 760 267 760 268 761 274 761 282 765 300 766 310 768 316 770 334 772 341 774 343 776 343 779 334 783 298 793 280 796 260 805 232 827 204 840 194 848 184 862 170 866 164 870 161 871 162 871 164 871 168 849 232 848 238 842 251 835 262 833 274 832 280 828 298 818 322 812 334 811 342 802 354 800 353 798 347 796 345 794 346 786 358 782 358 782 368 785 378 786 395 784 395 780 392 772 389 768 388 762 389 760 387 759 378 758 377 752 378 750 377 747 374 740 354 739 346 739 332 737 326 735 322 734 321 732 321 729 324 727 332 726 344 722 354 721 364 719 374 719 378 726 394 729 398 730 402 727 420 722 438 720 442 714 448 708 452 702 453 696 453 690 450 683 444 680 440 674 429 668 423 664 421 660 421 654 422 650 426 649 428 648 434 650 438 660 444 661 446 661 450 660 456 654 468 654 474 652 476 650 476 644 466 640 462 633 458 628 456 622 455 616 455 602 461 594 466 589 472 584 490 573 506 567 520 555 520 577 488 581 474 585 466 589 462 597 456 608 451 618 449 636 450 642 448 643 446 642 432 644 424 648 418 660 407 664 405 668 406 675 412 680 420 687 440 689 444 694 448 698 449 704 449 710 446 714 442 717 438 718 434 718 424 717 418 715 412 712 409 706 403 705 400 705 396 707 390 707 382 705 360 702 344 702 334 700 333 698 333 692 338 686 338 674 344 670 343 660 343 656 344 650 335 648 334 640 339 636 344 632 346 628 347 624 345 620 340 616 337 615 334 624 320 627 314 631 310 631 308 630 307 620 309 566 306 562 305 557 302 555 298 555 292 559 282 557 278 556 276 548 270 538 266 532 266 526 270 522 272 516 271 510 268 507 264 505 256 507 248 507 244 502 238 492 231 484 228 476 226 454 229 440 227 432 228 428 228 426 228 420 222 414 222 401 218 399 214 401 204 400 201 397 198 396 196 400 184 400 174 398 168 395 164 392 161 388 158 384 158 382 158 374 164 371 168 369 174 368 182 370 188 372 192 379 200 380 202 379 204 373 210 353 220 345 230 336 236 336 206 340 206 342 204 347 190 353 178 361 166 371 156 374 152 381 136 381 128 382 126 394 118 398 116 404 116 412 117 419 106 421 104 424 103 438 106 444 108 452 113 462 125 466 126 472 126 479 122 485 116 514 84 526 68ZM766 143 740 162 728 169 714 176 706 182 708 184 714 184 734 176 746 171 754 164 764 151 768 144 768 143 766 143ZM830 206 822 216 816 228 812 230 810 232 810 238 812 240 814 238 816 239 816 248 818 250 822 243 832 212 834 206 832 205 830 206ZM412 118 398 134 395 138 395 140 396 142 405 154 409 162 415 178 418 190 423 202 434 210 444 215 456 217 468 213 480 208 482 207 484 208 493 218 500 224 508 228 524 234 538 244 541 248 543 256 545 260 561 272 566 276 572 285 578 289 596 289 604 286 629 280 647 272 648 270 638 266 637 264 639 262 644 259 645 258 646 254 656 244 655 238 656 232 653 226 650 224 644 223 642 222 638 218 638 214 640 206 640 204 636 203 614 202 584 203 568 207 542 219 538 219 534 219 530 216 521 206 516 203 510 201 496 199 492 197 489 192 483 170 478 163 474 160 460 152 450 143 437 136 420 121 416 119 412 118ZM442 122 442 124 443 126 446 130 450 132 452 132 454 131 455 128 454 126 452 123 448 121 444 121 442 122ZM873 66 901 66 899 74 900 76 904 75 906 76 908 79 908 95 904 98 898 106 892 110 884 118 876 123 868 129 856 143 846 148 844 148 843 148 844 144 858 120 864 106 868 84 872 74 873 66ZM898 262 898 261 898 262 900 272 908 261 908 419 902 423 894 431 885 444 884 450 885 454 890 457 900 460 908 461 908 471 892 464 870 462 852 464 840 469 834 471 824 469 804 463 798 463 792 466 784 474 782 473 774 466 768 463 762 462 754 464 750 463 740 446 740 441 742 439 744 437 748 437 756 443 762 444 768 442 776 437 780 436 786 436 796 442 800 441 804 438 806 434 812 414 815 408 832 378 838 370 840 367 844 365 845 362 848 352 855 338 856 334 863 320 866 311 871 302 872 298 874 294 875 294 875 298 864 332 864 338 866 335 894 267 898 262ZM840 410 832 412 822 422 818 428 809 448 809 452 813 456 820 459 832 463 840 462 858 456 863 452 865 448 863 440 856 421 853 416 850 412 846 409 844 409 840 410ZM874 414 870 417 868 421 867 426 867 430 867 434 870 439 872 441 876 442 880 440 883 436 886 430 886 424 885 418 882 414 878 413 874 414ZM512 312 518 310 522 311 525 312 526 314 525 318 522 322 518 324 514 324 510 323 506 320 506 318 507 316 512 312ZM336 468 336 467 338 468 354 474 364 479 376 488 398 496 404 497 408 497 424 492 428 492 434 494 444 500 454 511 469 520 438 520 434 510 430 506 426 506 421 508 416 517 412 520 396 520 376 507 364 500 348 490 344 488 336 487 336 468Z"/>
<path fill="#2eff00" fill-rule="evenodd" d="M649 68 651 66 680 66 656 88 648 94 629 110 617 130 610 144 610 146 612 147 624 149 628 149 653 140 662 139 668 136 693 128 726 121 750 111 765 106 792 99 794 99 795 100 792 103 736 123 718 128 682 145 656 149 650 151 617 168 595 178 580 184 557 196 542 201 538 202 532 200 508 191 501 188 496 182 489 168 484 160 476 154 464 148 462 144 462 140 462 138 464 137 476 133 484 129 498 120 520 103 550 84 560 79 564 78 570 81 570 82 567 90 563 102 563 104 566 104 579 100 592 94 604 94 612 93 626 85 649 68ZM528 122 488 139 484 142 483 146 484 150 494 160 503 176 506 180 512 184 518 186 528 188 534 189 542 187 552 182 559 178 562 174 560 168 562 162 562 148 562 136 561 132 556 126 548 120 538 120 528 122ZM901 66 908 66 908 79 906 76 904 75 900 76 899 74 901 66ZM442 122 446 121 450 122 452 123 454 126 455 128 454 131 452 132 450 132 446 130 443 126 442 122ZM765 144 768 143 768 144 764 151 754 164 746 171 734 176 714 184 708 184 706 182 714 176 728 169 740 162 765 144ZM383 158 388 158 392 161 397 166 399 172 400 182 396 196 397 198 400 201 401 204 399 214 401 218 414 222 420 222 426 228 428 228 432 228 440 227 454 229 476 226 484 228 492 231 502 238 507 244 507 248 505 256 507 264 510 268 516 271 522 272 526 270 532 266 538 266 548 270 556 276 557 278 559 282 555 292 555 298 557 302 562 305 566 306 620 309 630 307 631 308 631 310 627 314 624 320 615 334 616 337 620 340 624 345 628 347 632 346 636 344 640 339 648 334 650 335 656 344 660 343 670 343 674 344 686 338 692 338 698 333 700 333 702 334 702 344 705 360 707 382 707 390 705 396 705 400 706 403 712 409 715 412 717 418 718 424 718 434 717 438 714 442 710 446 704 449 698 449 694 448 689 444 687 440 680 420 675 412 668 406 664 405 660 407 648 418 644 424 642 432 643 446 642 448 636 450 618 449 608 451 598 455 587 464 581 472 577 488 555 520 469 520 454 511 444 500 434 494 428 492 424 492 408 497 404 497 398 496 376 488 358 476 336 467 336 443 342 446 350 453 356 456 374 463 384 469 394 472 402 473 408 473 416 470 424 465 428 464 432 466 442 472 461 490 468 495 474 498 488 500 494 502 514 513 522 517 528 518 534 517 540 514 549 508 565 492 568 486 572 472 574 466 578 460 585 454 596 447 606 443 612 442 628 443 632 442 634 440 636 436 637 426 638 420 642 413 650 404 651 396 654 388 656 385 662 379 664 378 668 377 670 375 672 372 675 360 675 356 670 354 668 355 662 359 652 363 650 362 647 358 646 354 644 353 638 355 630 363 628 364 626 364 616 354 608 353 606 351 604 346 605 334 604 332 597 328 584 323 564 317 554 316 546 317 540 320 528 328 522 330 514 330 504 326 500 322 499 320 499 316 502 313 510 306 514 301 518 298 530 296 548 290 552 286 552 282 550 280 542 275 536 274 532 274 521 278 507 288 498 290 492 289 488 284 486 276 487 270 493 258 495 252 495 248 493 244 490 241 486 239 482 237 472 237 444 245 442 244 438 240 422 236 416 236 408 237 398 235 392 236 391 236 390 238 391 242 390 244 388 245 368 248 364 249 361 252 354 264 352 272 347 278 336 288 336 236 345 230 353 220 373 210 379 204 380 202 379 200 370 189 369 184 368 178 370 170 372 166 378 161 383 158ZM700 420 696 421 692 424 691 432 691 438 693 442 696 445 700 446 706 444 710 441 712 436 713 432 711 426 708 422 704 420 700 420ZM664 383 662 385 661 388 661 390 662 392 666 388 666 385 664 383ZM514 311 507 316 506 318 506 320 509 322 513 324 516 324 520 323 524 320 526 316 526 314 525 312 522 311 518 310 514 311ZM830 206 832 205 834 206 832 212 822 243 818 250 816 248 816 239 814 238 812 240 810 238 810 232 812 230 816 228 822 216 830 206ZM336 326 336 324 342 328 348 333 352 338 355 346 357 358 356 364 352 371 344 378 336 383 336 326ZM554 364 556 363 558 363 559 366 558 368 556 368 553 366 554 364ZM839 410 844 409 846 409 852 414 858 426 864 442 865 448 863 452 858 456 840 462 832 463 820 459 813 456 809 452 809 448 820 424 830 414 834 411 839 410ZM834 425 827 430 822 437 820 444 821 448 822 450 828 454 838 456 848 455 854 452 857 448 858 444 856 438 852 432 848 428 844 426 838 424 834 425ZM906 420 908 419 908 442 904 440 898 440 892 444 891 448 891 450 893 452 898 454 903 452 908 448 908 461 900 460 890 457 885 454 884 450 885 444 890 437 898 427 906 420Z"/>
<path fill="#8bff00" fill-rule="evenodd" d="M527 122 538 120 548 120 556 126 561 132 562 136 562 148 562 162 560 168 562 174 559 178 552 182 542 187 534 189 528 188 518 186 512 184 506 180 503 176 494 160 484 150 483 146 484 142 488 139 527 122ZM520 148 515 150 512 153 510 158 510 164 511 170 512 174 516 177 520 178 526 177 530 174 533 170 533 166 530 150 528 148 526 147 520 148ZM391 236 398 235 406 237 416 236 422 236 438 240 442 244 444 245 474 237 482 237 488 240 493 244 495 250 493 258 486 272 486 278 487 282 489 286 494 290 500 290 507 288 521 278 532 274 536 274 540 275 550 280 552 282 553 284 552 286 550 289 546 291 532 295 518 298 514 301 510 306 501 314 499 318 500 322 502 325 508 328 516 330 523 330 529 328 540 320 546 317 552 316 562 317 581 322 597 328 604 332 605 334 604 346 606 351 608 353 616 354 626 364 628 364 630 363 638 355 644 353 646 354 647 358 650 362 652 363 662 359 668 355 672 355 675 356 675 360 672 372 668 377 664 378 656 385 654 388 651 396 650 404 643 412 639 418 637 424 636 436 634 440 632 442 628 443 612 442 606 443 596 447 586 453 578 460 574 466 572 472 568 486 564 493 552 505 544 511 536 516 528 518 524 517 518 515 494 502 488 500 474 498 468 495 461 490 442 472 430 465 426 464 416 470 408 473 402 473 394 472 384 469 374 463 356 456 350 453 342 446 336 443 336 383 344 378 352 371 356 364 357 358 355 346 352 338 344 330 336 324 336 288 347 278 352 272 354 264 361 252 364 249 368 248 388 245 390 244 391 242 390 238 391 236ZM422 253 418 256 410 259 402 260 394 259 390 260 381 268 380 270 379 276 376 280 366 288 363 294 358 298 355 302 354 304 358 318 363 330 374 356 375 362 375 366 374 370 370 376 342 405 339 410 338 416 339 420 343 426 360 441 364 444 370 447 388 455 396 457 406 456 422 451 434 448 438 448 442 448 456 455 472 467 480 472 500 480 522 493 528 495 532 495 536 495 542 493 552 486 556 481 562 466 566 460 574 451 584 444 598 436 606 433 614 433 626 436 628 435 629 432 626 422 622 418 620 414 620 410 621 402 619 394 618 386 617 384 610 380 604 372 594 365 593 358 592 353 588 348 577 338 567 330 562 327 556 326 550 326 546 327 541 330 534 338 532 339 528 340 518 337 498 328 494 324 494 320 494 316 497 310 503 304 504 302 503 300 502 299 494 297 490 295 481 288 476 280 472 270 466 262 464 261 453 258 438 255 430 253 422 253ZM478 247 475 250 474 252 474 255 475 256 478 257 482 256 484 255 486 252 484 248 482 247 478 247ZM530 280 526 282 526 284 527 286 530 287 533 286 535 284 534 281 532 280 530 280ZM634 377 632 378 630 382 630 389 637 378 636 377 634 377ZM538 352 544 351 556 352 562 353 569 358 570 362 570 366 567 370 562 374 558 375 552 374 542 368 538 364 536 362 536 356 538 352ZM554 364 553 366 554 367 556 368 558 368 559 366 559 364 556 363 554 364ZM663 384 664 383 666 385 666 388 664 391 662 392 661 390 661 388 661 386 663 384ZM429 402 434 403 438 405 442 409 444 414 444 418 444 422 442 426 438 429 434 430 428 427 424 423 421 418 421 412 422 408 425 404 429 402ZM699 420 704 420 708 422 711 426 713 432 712 436 710 441 706 444 700 446 696 445 693 442 691 438 691 434 691 428 692 424 696 421 699 420ZM700 431 698 434 698 438 699 440 702 441 706 438 707 434 706 432 704 431 700 431ZM832 426 836 425 842 425 848 428 852 432 856 438 858 444 857 448 854 452 848 455 838 456 828 454 822 450 821 448 820 444 822 438 826 431 832 426ZM834 438 831 440 830 442 831 444 833 446 840 449 846 450 848 450 852 448 852 446 852 444 848 439 844 437 840 437 834 438ZM899 440 904 440 908 442 908 448 902 453 896 453 892 451 891 448 892 444 894 442 899 440Z"/>
<path fill="#e8ff00" fill-rule="evenodd" d="M519 148 524 147 528 147 530 150 533 164 533 170 530 174 527 176 522 178 518 178 514 176 511 172 510 166 510 159 511 154 514 151 519 148ZM477 248 480 247 484 248 485 250 486 252 485 254 480 256 475 256 474 254 474 252 477 248ZM421 254 424 253 430 253 438 255 453 258 464 261 466 262 472 270 476 280 481 288 490 295 494 297 502 299 503 300 504 302 503 304 496 311 494 318 494 324 496 326 500 329 520 338 526 339 530 340 534 338 544 328 550 326 556 326 562 327 567 330 577 338 588 348 592 353 593 358 594 365 604 372 610 380 617 384 618 386 619 394 621 402 620 410 620 414 622 418 626 422 629 432 628 435 626 436 614 433 606 433 598 436 584 444 574 451 566 460 562 466 556 481 552 486 542 493 536 495 532 495 528 495 522 493 500 480 480 472 472 467 456 455 442 448 438 448 434 448 422 451 406 456 396 457 388 455 370 447 364 444 360 441 343 426 339 420 338 416 339 410 342 405 370 376 374 370 375 366 375 362 374 356 363 330 358 318 354 304 355 302 358 298 363 294 366 288 376 280 379 276 380 270 381 268 390 260 394 259 402 260 410 259 418 256 421 254ZM426 280 420 281 412 285 390 290 388 292 385 298 383 306 378 310 377 312 376 324 379 336 384 348 394 364 396 368 396 372 394 376 382 388 366 408 364 412 363 416 365 422 370 427 376 432 392 442 398 445 403 444 407 440 408 436 404 404 404 394 406 387 408 385 412 383 434 385 438 386 444 391 451 398 457 406 465 420 469 438 471 442 475 446 480 448 504 455 510 458 522 467 528 470 536 471 540 470 544 468 550 463 569 444 588 430 596 422 600 414 601 408 600 400 597 392 592 387 580 380 576 379 562 381 556 381 547 378 536 372 530 366 523 352 518 346 504 336 494 334 491 332 489 328 488 324 488 318 489 306 488 302 484 299 473 292 458 281 454 279 450 279 436 279 426 280ZM540 351 538 352 536 355 536 358 536 362 540 366 550 373 556 375 562 374 567 370 570 366 570 362 570 360 568 357 563 354 556 352 540 351ZM550 335 548 336 548 338 549 340 552 341 555 340 556 338 555 336 552 334 550 335ZM430 402 426 403 422 408 421 412 421 418 423 422 426 426 432 429 436 430 440 428 443 424 444 420 444 414 442 409 438 405 434 403 430 402ZM529 280 532 280 535 282 535 284 533 286 530 287 528 287 526 284 526 282 529 280ZM632 378 636 377 637 378 630 389 630 382 632 378ZM699 432 702 431 706 432 707 434 706 438 702 441 699 440 698 436 699 432ZM833 438 840 437 844 437 848 439 852 444 852 446 852 448 848 450 846 450 840 449 833 446 831 444 830 442 831 440 833 438Z"/>
<path fill="#ffb900" fill-rule="evenodd" d="M425 280 436 279 450 279 454 279 458 281 473 292 484 299 488 302 489 306 488 318 488 324 489 328 491 332 494 334 504 336 518 346 523 352 530 366 536 372 547 378 556 381 562 381 576 379 580 380 592 387 597 392 600 400 601 408 600 414 596 422 588 430 569 444 550 463 544 468 540 470 536 471 528 470 522 467 510 458 504 455 480 448 475 446 471 442 469 438 465 420 457 406 451 398 444 391 438 386 434 385 412 383 408 385 406 387 404 394 404 404 408 436 407 440 403 444 398 445 392 442 376 432 370 427 365 422 363 416 364 412 366 408 382 388 394 376 396 372 396 368 394 364 384 348 379 336 376 324 377 312 378 310 383 306 385 298 388 292 390 290 412 285 420 281 425 280ZM426 292 416 294 406 300 404 302 402 308 396 313 394 316 391 330 392 340 396 348 400 353 410 361 418 368 422 371 426 373 440 371 444 372 446 373 466 394 482 410 496 428 520 446 530 451 536 452 540 451 550 447 576 427 581 422 584 416 585 410 583 404 578 396 569 392 548 385 534 378 528 374 522 368 514 354 505 344 500 341 490 339 486 336 484 334 481 326 480 312 478 307 462 299 444 293 438 292 426 292ZM548 336 550 335 552 334 555 336 556 338 554 340 550 341 548 338 548 336Z"/>
<path fill="#ff5d00" fill-rule="evenodd" d="M425 292 430 292 444 293 462 299 478 307 480 312 481 326 484 334 486 336 490 339 500 341 505 344 514 354 522 368 528 374 534 378 548 385 569 392 578 396 583 404 585 410 584 416 581 422 576 427 550 447 540 451 536 452 530 451 520 446 496 428 482 410 466 394 446 373 444 372 440 371 426 373 422 371 418 368 410 361 400 353 396 348 392 340 391 330 394 316 396 313 402 308 404 302 406 300 416 294 425 292ZM438 314 424 317 411 324 408 326 404 333 403 338 403 342 406 346 412 349 424 353 428 353 442 353 446 354 451 356 455 360 464 372 498 404 514 421 522 427 530 431 538 433 548 432 558 427 565 420 567 416 568 412 566 408 561 402 540 388 536 386 526 383 520 380 515 374 509 362 504 356 498 351 486 345 474 334 466 324 462 321 452 316 438 314Z"/>
<path fill="#ff0000" fill-rule="evenodd" d="M438 314 442 314 452 316 462 321 466 324 474 334 486 345 498 351 504 356 509 362 515 374 520 380 526 383 536 386 540 388 560 402 564 406 568 412 567 416 565 420 558 427 548 432 538 433 530 431 522 427 514 421 498 404 464 372 455 360 451 356 446 354 442 353 428 353 424 353 412 349 406 346 403 342 403 338 404 333 408 326 411 324 424 317 438 314Z"/>
</g>
<path clip-path="url(#cw)" d="M342.9 318V516M347.5 318V516M352.0 318V516M356.6 318V516M361.2 318V516M365.7 318V516M370.3 318V516M374.9 318V516M379.5 318V516M384.0 318V516M388.6 318V516M393.2 318V516M397.7 318V516M402.3 318V516M406.9 318V516M411.4 318V516M416.0 318V516M420.6 318V516M425.2 318V516M429.7 318V516M434.3 318V516M438.9 318V516M443.4 318V516M448.0 318V516M452.6 318V516M457.1 318V516M461.7 318V516M466.3 318V516M470.9 318V516M475.4 318V516M480.0 318V516M484.6 318V516M489.1 318V516M493.7 318V516M498.3 318V516M502.8 318V516M507.4 318V516M512.0 318V516M516.6 318V516M521.1 318V516M525.7 318V516M530.3 318V516M534.8 318V516M539.4 318V516M544.0 318V516M548.6 318V516M553.1 318V516M557.7 318V516M562.3 318V516M566.8 318V516M571.4 318V516M576.0 318V516M580.5 318V516M585.1 318V516M589.7 318V516M594.3 318V516M598.8 318V516M603.4 318V516M608.0 318V516M612.5 318V516M617.1 318V516M621.7 318V516M626.2 318V516M630.8 318V516M635.4 318V516M640.0 318V516M644.5 318V516M649.1 318V516M653.7 318V516M658.2 318V516M662.8 318V516M667.4 318V516M671.9 318V516M676.5 318V516M681.1 318V516M685.7 318V516M690.2 318V516M694.8 318V516M699.4 318V516M703.9 318V516M708.5 318V516M713.1 318V516M717.6 318V516M722.2 318V516M726.8 318V516M731.4 318V516M735.9 318V516M740.5 318V516M745.1 318V516M749.6 318V516M754.2 318V516M758.8 318V516M763.3 318V516M767.9 318V516M772.5 318V516M777.1 318V516M781.6 318V516M786.2 318V516M790.8 318V516M795.3 318V516M799.9 318V516M804.5 318V516M809.0 318V516M813.6 318V516M818.2 318V516M822.8 318V516M827.3 318V516M831.9 318V516M836.5 318V516M841.0 318V516M845.6 318V516M850.2 318V516M854.7 318V516M859.3 318V516M863.9 318V516M868.5 318V516M873.0 318V516M877.6 318V516M882.2 318V516M886.7 318V516M891.3 318V516M895.9 318V516M900.4 318V516M342 449.6H902M342 445.0H902M342 440.4H902M342 435.8H902M342 431.2H902M342 426.6H902M342 422.0H902M342 417.4H902M342 412.8H902M342 408.1H902M342 403.5H902M342 398.9H902M342 394.3H902M342 389.7H902M342 385.1H902M342 380.5H902M342 375.9H902M342 371.3H902M342 366.7H902M342 362.1H902M342 357.5H902M342 352.9H902M342 348.3H902M342 343.7H902M342 339.1H902M460 333.9H520M460 329.2H520M460 324.6H520M342 454.3H902M342 497.4H902" stroke="#000" stroke-opacity="0.9" stroke-width="1.55" fill="none"/>
<g clip-path="url(#cc)">
<path d="M361.5 64.2 358.2 93.6 356.7 118.2 356.7 123.2 357.4 137.9 358.1 142.8 364.6 171.7M364.0 64.7 360.2 94.0 358.4 118.6 358.4 123.5 358.8 138.3 359.4 143.1 365.3 172.0M367.2 65.3 362.9 94.5 360.6 119.1 360.4 124.0 360.5 138.7 361.1 143.6 366.2 172.4M371.6 66.2 366.5 95.3 363.6 119.7 363.3 124.6 363.0 139.3 363.3 144.1 367.3 172.9M377.5 67.3 371.5 96.3 367.7 120.6 367.2 125.5 366.3 140.1 366.4 144.9 368.9 173.7M385.1 68.8 377.8 97.6 372.9 121.7 372.2 126.6 370.5 141.1 370.4 145.9 371.0 174.6M394.1 70.6 385.3 99.1 378.2 127.9 375.6 142.4 375.0 147.2 373.4 175.7M404.1 72.6 393.6 100.8 384.7 129.4 381.1 143.7 380.2 148.5 376.1 177.0M414.5 74.7 402.2 102.5 393.2 126.1 385.6 149.9 378.9 178.2M424.5 76.7 410.6 104.2 400.1 127.6 390.8 151.2 381.6 179.5M433.5 78.4 418.1 105.7 406.3 129.0 395.5 152.4 384.0 180.6M441.1 80.0 424.4 107.0 411.5 130.1 399.4 153.4 386.1 181.5M447.1 81.1 429.4 108.0 415.6 131.0 402.5 154.2 387.7 182.3M451.5 82.0 430.0 113.3 404.7 154.8 388.9 182.8M454.6 82.6 432.6 113.8 406.4 155.2 389.7 183.2M457.1 83.1 434.6 114.2 407.7 155.5 390.4 183.5M458.6 84.4 435.8 115.1 408.6 156.0 391.1 183.8M460.4 85.8 437.3 116.1 409.7 156.6 391.9 184.1M462.7 87.6 439.2 117.4 411.0 157.4 392.9 184.4M465.6 90.0 441.5 119.1 412.7 158.3 394.1 184.9M469.2 92.9 444.5 121.2 414.9 159.5 395.7 185.5M473.6 96.5 459.0 111.8 448.2 123.7 417.5 161.0 397.7 186.2M478.8 100.6 463.6 115.3 452.5 126.7 420.6 162.7 400.0 187.1M484.6 105.3 468.8 119.1 457.3 130.1 424.1 164.6 402.5 188.0M490.9 110.4 474.5 123.3 462.4 133.7 427.9 166.7 405.3 189.1M497.4 115.7 480.3 127.6 467.8 137.5 431.8 168.8 408.2 190.2M504.0 120.9 486.2 132.0 473.2 141.2 435.6 170.9 411.0 191.2M510.3 126.0 491.8 136.2 478.4 144.9 443.7 169.8 413.8 192.3M516.1 130.7 497.0 140.0 483.2 148.2 447.3 171.9 416.4 193.2M521.3 134.9 501.7 143.5 487.4 151.2 450.5 173.8 418.7 194.1M525.7 138.4 505.6 146.4 491.1 153.8 453.3 175.3 420.6 194.8M529.3 141.4 508.9 148.8 494.1 155.9 455.6 176.6 422.2 195.4M532.2 143.7 511.5 150.7 496.5 157.5 457.4 177.7 423.5 195.9M534.5 145.5 513.5 152.2 498.3 158.8 458.8 178.5 424.5 196.3M536.3 146.9 515.1 153.4 499.8 159.9 459.9 179.1 425.3 196.6M537.8 148.2 516.5 154.5 501.1 160.8 460.8 179.7 425.9 196.8M538.6 150.1 517.3 156.1 501.8 162.1 461.5 180.5 426.5 197.3M539.5 152.3 518.2 157.9 497.6 165.8 462.3 181.6 427.2 197.8M540.7 155.2 519.4 160.3 498.7 167.8 463.3 182.9 428.0 198.6M542.2 158.9 520.9 163.5 500.2 170.3 464.6 184.6 429.1 199.5M544.2 163.6 522.9 167.4 502.1 173.6 466.2 186.7 430.5 200.7M546.5 169.3 525.2 172.3 514.9 174.6 504.4 177.5 468.2 189.4 432.2 202.1M549.3 176.0 528.0 177.9 517.6 179.6 507.1 182.1 470.6 192.4 434.2 203.8M552.4 183.4 531.1 184.1 520.6 185.2 510.0 187.2 483.7 193.2 436.3 205.7M555.6 191.3 534.3 190.8 523.9 191.2 513.2 192.6 486.6 197.3 438.7 207.7M559.0 199.3 532.4 197.4 527.2 197.3 516.4 198.1 489.5 201.5 441.1 209.7M562.2 207.2 535.7 203.7 530.4 203.3 519.5 203.5 492.4 205.6 443.4 211.7M565.3 214.6 544.0 210.5 533.4 208.8 522.5 208.6 511.6 208.7 495.1 209.4 445.6 213.6M568.0 221.3 546.8 216.1 536.2 213.9 519.7 212.9 497.5 212.9 447.6 215.3M570.4 227.0 538.5 218.2 521.9 216.7 499.6 215.9 482.8 216.0 449.3 216.7M572.4 231.7 540.4 221.8 523.8 219.7 501.3 218.3 484.4 218.0 450.7 217.9M573.9 235.4 542.0 224.6 525.2 222.1 502.7 220.3 485.7 219.6 451.8 218.9M575.1 238.3 543.1 226.7 526.3 224.0 503.7 221.7 486.7 220.8 452.6 219.6M576.0 240.5 544.1 228.4 527.2 225.4 504.5 222.9 487.5 221.8 453.3 220.1M576.8 242.4 544.8 229.8 528.0 226.7 505.2 223.9 488.1 222.6 453.8 220.6M577.0 244.1 545.2 231.3 528.3 228.0 505.6 225.1 488.5 223.8 454.2 222.0M577.4 246.5 545.7 233.4 528.9 229.9 506.1 226.9 483.3 225.3 454.6 224.0M578.0 250.1 551.8 238.5 546.5 236.5 529.7 232.8 512.7 230.2 501.2 229.1 484.0 227.9 455.4 227.0M578.7 255.1 552.8 242.9 547.5 240.7 530.8 236.7 513.8 233.9 502.3 232.7 485.1 231.6 456.3 231.1M579.6 261.3 554.1 248.2 548.8 246.0 537.8 242.9 532.1 241.6 515.1 238.5 503.7 237.1 486.4 236.2 457.6 236.3M580.7 268.1 555.5 254.2 550.2 251.9 539.3 248.4 528.0 245.8 510.9 242.7 493.6 241.4 487.8 241.2 458.9 241.9M581.7 275.0 556.9 260.2 551.7 257.8 540.8 253.9 529.6 251.1 512.5 247.7 495.1 246.4 489.3 246.3 460.3 247.6M582.7 281.2 558.2 265.6 553.0 263.1 542.2 258.8 525.3 254.5 513.8 252.2 496.4 250.9 490.6 250.8 461.5 252.7M583.4 286.2 559.3 269.9 554.0 267.3 543.3 262.8 526.4 258.2 514.9 255.8 497.5 254.6 491.6 254.5 462.5 256.9M584.0 289.8 560.0 273.0 554.8 270.4 544.1 265.7 527.2 260.9 515.7 258.4 509.9 257.8 498.2 257.2 492.4 257.1 463.2 259.8M584.3 292.2 560.5 275.1 544.6 267.6 527.7 262.8 516.3 260.2 510.5 259.6 498.7 259.0 492.9 258.9 463.7 261.8M584.6 293.9 560.8 276.6 545.0 269.0 528.1 264.1 516.7 261.4 510.8 260.8 499.1 260.2 493.3 260.2 464.1 263.3M584.6 295.8 561.1 278.3 545.3 270.5 528.4 265.4 517.0 262.7 511.2 262.0 499.5 261.2 493.7 261.1 464.4 263.9M584.6 298.2 561.4 280.4 545.7 272.4 528.8 267.1 517.5 264.2 511.7 263.4 500.0 262.4 494.2 262.3 464.9 264.7M584.6 301.5 561.7 283.2 546.1 274.9 529.4 269.4 518.1 266.3 512.3 265.3 500.7 264.1 494.8 263.9 465.5 265.8M584.6 305.9 562.2 287.0 552.1 281.1 546.8 278.4 530.2 272.4 518.9 269.0 513.2 267.9 501.6 266.4 495.7 266.0 466.3 267.2M584.7 311.5 562.9 291.8 552.9 285.6 547.6 282.8 531.1 276.3 520.0 272.6 514.3 271.2 502.8 269.2 496.9 268.7 467.4 269.1M584.7 318.2 563.7 297.6 553.9 291.0 548.7 288.0 532.3 281.0 521.2 276.8 515.6 275.2 504.2 272.7 498.3 272.0 468.6 271.4M584.7 325.8 564.5 304.2 555.0 297.1 549.8 294.0 533.6 286.3 522.6 281.6 517.1 279.7 505.8 276.6 499.8 275.7 470.0 273.9M584.8 333.9 569.5 315.5 565.5 311.1 556.1 303.6 551.0 300.3 540.4 294.6 524.2 286.7 518.7 284.5 507.4 280.7 501.5 279.6 471.5 276.6M584.8 342.0 570.3 322.7 566.4 318.1 557.3 310.1 552.2 306.6 541.7 300.4 525.7 291.8 520.2 289.3 509.1 284.8 503.2 283.5 473.0 279.2M584.9 349.6 571.1 329.4 567.3 324.6 558.4 316.2 553.4 312.6 543.0 305.9 527.1 296.6 521.7 293.8 510.7 288.7 504.7 287.2 474.5 281.8M584.9 356.3 571.8 335.4 568.1 330.4 559.3 321.6 549.3 314.2 528.3 300.9 523.0 297.7 512.1 292.2 506.1 290.5 475.7 284.0M584.9 361.9 572.3 340.4 568.7 335.2 560.2 326.1 550.2 318.4 524.1 301.1 513.2 295.0 507.3 293.2 476.8 285.9M584.9 366.3 572.7 344.2 569.2 339.0 560.8 329.7 550.9 321.7 525.0 303.7 514.2 297.3 508.2 295.3 477.6 287.3M585.0 369.6 573.1 347.1 569.6 341.9 561.3 332.3 551.4 324.2 525.6 305.6 514.8 299.0 508.8 296.9 478.2 288.4M585.0 372.0 573.3 349.3 569.9 343.9 561.6 334.2 551.8 326.0 526.1 307.0 515.3 300.2 509.3 298.1 478.6 289.2M585.0 373.9 573.5 351.0 570.1 345.6 561.9 335.8 552.1 327.5 526.5 308.2 515.7 301.2 509.7 299.0 479.0 289.9M585.2 375.6 573.5 352.6 570.1 347.2 561.8 337.3 552.0 328.9 526.3 309.5 515.5 302.4 509.5 300.2 478.7 290.7M585.4 377.7 573.5 354.7 570.0 349.3 561.7 339.3 551.9 330.8 526.0 311.2 515.1 304.1 509.1 301.8 478.2 291.9M585.8 380.9 573.5 357.8 569.9 352.3 561.5 342.3 551.6 333.6 525.5 313.8 514.6 306.6 508.5 304.2 477.6 293.6M586.4 385.3 573.5 362.1 569.8 356.6 561.2 346.4 551.3 337.5 530.3 321.2 524.9 317.3 513.8 310.0 507.8 307.4 476.7 296.0M587.0 390.8 573.4 367.5 569.7 361.9 560.9 351.6 551.0 342.4 529.6 325.7 512.9 314.2 506.8 311.4 475.5 299.0M587.8 397.2 573.4 373.7 569.5 368.0 560.5 357.6 550.5 348.1 528.9 330.9 511.8 319.1 505.7 316.1 474.2 302.4M588.6 403.8 573.4 380.2 569.3 374.4 560.1 363.8 550.1 353.9 528.1 336.2 510.7 324.2 504.5 320.9 472.9 306.0M589.4 410.1 573.4 386.4 569.2 380.6 559.8 369.7 549.6 359.6 527.3 341.4 509.6 329.1 503.4 325.6 471.6 309.4M590.1 415.6 569.0 385.9 559.4 374.9 549.2 364.5 526.7 345.9 508.7 333.4 502.4 329.7 470.5 312.4M590.6 420.0 568.9 390.1 554.2 373.5 548.9 368.4 526.2 349.4 507.9 336.8 501.7 332.9 469.6 314.7M591.0 423.2 568.8 393.2 554.0 376.4 548.7 371.2 525.8 352.0 507.4 339.2 501.1 335.2 468.9 316.5M591.3 425.4 568.8 395.3 553.9 378.4 548.6 373.1 525.5 353.8 507.0 340.9 500.7 336.8 468.5 317.6M591.5 427.0 568.7 396.9 553.8 379.9 548.5 374.5 525.3 355.1 500.5 338.0 468.1 318.5M361.5 64.2 457.1 83.1 537.8 148.2 576.8 242.4 584.6 293.9 585.0 373.9 591.5 427.0M361.0 69.1 453.9 87.6 532.5 149.7 571.5 240.3 579.8 290.4 582.1 368.2 587.0 421.0M360.4 74.0 450.6 92.0 527.1 151.3 566.2 238.2 575.1 287.0 582.4 414.9M359.9 78.9 447.4 96.4 521.8 152.9 560.8 236.0 570.3 283.5 576.4 356.7 577.9 408.9M359.3 83.8 444.2 100.8 516.5 154.5 555.5 233.9 565.6 280.1 573.5 351.0 573.3 402.9M358.7 88.7 440.9 105.3 511.3 156.6 550.2 231.8 560.8 276.6 570.1 345.6 568.7 396.9M358.2 93.6 437.7 109.7 506.2 158.7 544.8 229.8 555.6 273.9 566.1 340.6 563.8 391.2M357.8 98.5 434.6 114.2 501.1 160.8 539.2 228.8 550.3 271.4 561.9 335.8 558.8 385.5M357.5 103.4 431.6 118.8 496.0 163.0 533.6 227.7 545.0 269.0 557.0 331.6 553.8 379.9M357.3 108.4 428.5 123.3 490.9 165.4 528.0 226.7 539.4 267.3 552.1 327.5 548.5 374.5M357.0 113.3 425.5 127.9 485.9 167.7 522.3 225.9 533.8 265.6 547.0 323.5 542.7 369.7M356.7 118.2 422.5 132.5 480.9 170.1 516.6 225.2 528.1 264.1 541.9 319.7 537.0 364.8M356.7 123.2 419.6 137.1 475.9 172.5 510.9 224.4 522.4 262.8 536.8 315.8 531.2 359.9M357.0 128.1 416.6 141.7 470.9 174.9 505.2 223.9 516.7 261.4 531.6 312.0 525.3 355.1M357.2 133.0 413.6 146.3 465.9 177.3 499.5 223.5 510.8 260.8 526.5 308.2 519.1 350.8M357.4 137.9 410.6 150.9 460.8 179.7 493.8 223.0 505.0 260.5 521.1 304.7 512.9 346.5M358.1 142.8 407.7 155.5 455.8 182.1 488.1 222.6 499.1 260.2 515.7 301.2 506.7 342.2M359.2 147.6 404.8 160.2 450.8 184.5 482.4 222.2 493.3 260.2 509.7 299.0 500.5 338.0M360.3 152.4 401.9 164.9 445.9 187.0 476.7 221.9 487.4 260.8 503.6 297.2 494.0 334.1M361.4 157.3 399.0 169.5 440.9 189.4 471.0 221.6 481.6 261.4 497.4 295.4 487.5 330.2M362.5 162.1 396.2 174.2 435.9 191.9 465.3 221.3 475.7 262.0 491.3 293.5 481.1 326.3M363.6 166.9 430.9 194.3 459.5 220.9 469.9 262.6 485.1 291.7 474.6 322.4M364.6 171.7 390.4 183.5 425.9 196.8 453.8 220.6 464.1 263.3 479.0 289.9 468.1 318.5" stroke="#000" stroke-opacity="0.92" stroke-width="1.6" fill="none" stroke-linejoin="round"/>
<path d="M451.2 91.2L436.0 112.0L422.2 133.0L408.0 155.0L396.7 173.3M528.2 151.0L516.6 154.4L498.0 162.0L480.3 170.4L458.0 181.0L436.7 191.5M567.5 238.7L545.7 230.0L527.0 226.5L509.3 224.2L487.0 222.5L465.8 221.3M576.5 288.0L560.0 276.0L545.7 269.2L530.0 264.5L514.7 261.0L495.0 260.0L476.0 262.0M580.5 365.0L572.0 348.0L563.2 336.9L551.0 326.5L539.0 317.5L527.0 308.5L514.7 300.5L490.5 293.3M585.5 419.0L578.0 409.0L569.2 397.4L551.1 376.8L526.9 356.2L502.6 339.3L478.4 324.7" stroke="#021408" stroke-opacity="0.78" stroke-width="5.6" fill="none" stroke-linecap="round" stroke-linejoin="round"/>
<path d="M557.3 193.7L545.7 190.8L527.0 190.0L509.3 190.8L490.0 193.5L474.5 196.6" stroke="#021408" stroke-opacity="0.7" stroke-width="4.2" fill="none" stroke-linecap="round" stroke-linejoin="round"/>
<path d="M523.0 304.0L520.5 330.0L519.0 352.0L518.5 362.0" stroke="#000820" stroke-opacity="0.85" stroke-width="1.8" fill="none" stroke-linecap="round"/>
<path d="M455.6 90.5L473.0 100.7L487.5 107.9L496.3 111.6L502.1 118.1L513.7 135.5L525.3 148.6L536.9 160.2L544.2 171.9L551.5 176.2L555.8 190.8L564.6 202.4L570.4 219.8L574.7 241.6L579.1 263.4L582.0 285.2L583.2 310.0L583.6 340.0L583.4 370.0L583.3 400.0L584.2 411.0L585.6 417.5L587.5 421.0" stroke="#000" stroke-opacity="0.9" stroke-width="9" fill="none" stroke-linejoin="round"/>
</g>
<path d="M583.3 392L584.0 408L585.6 417L588.0 421.2L592.5 422.6L600 423.6L612 426L626 428.4L640 430" stroke="#000" stroke-width="2.8" fill="none" stroke-linejoin="round" stroke-linecap="round"/>
<path d="M342.0 516.0L342.0 338.7L430.0 338.7L454.2 338.0L466.3 336.2L476.0 333.2L478.4 329.6L472.4 324.7L470.0 319.9L472.4 310.2L482.1 300.5L486.1 298.3L491.9 291.0L489.0 282.3L491.2 273.6L487.5 266.3L476.7 267.8L473.7 263.4L472.3 256.1L474.5 247.4L480.3 239.4L474.5 236.5L468.7 234.3L465.8 225.6L462.9 216.2L457.0 214.7L451.2 212.5L445.4 203.8L439.6 203.1L433.8 205.3L428.0 200.9L422.2 190.8L417.8 180.6L412.0 170.4L404.7 161.7L398.9 164.6L396.0 169.0L396.7 174.8L393.1 177.0L382.9 178.0L371.3 173.3L362.6 161.7L358.2 147.2L356.5 132.6L356.8 110.8L358.2 89.1L360.4 74.1L378.6 75.3L400.4 78.2L422.2 81.8L444.0 86.9L455.6 90.5L473.0 100.7L487.5 107.9L496.3 111.6L502.1 118.1L513.7 135.5L525.3 148.6L536.9 160.2L544.2 171.9L551.5 176.2L555.8 190.8L564.6 202.4L570.4 219.8L574.7 241.6L579.1 263.4L582.0 285.2L583.2 310.0L583.6 340.0L583.4 370.0L583.3 400.0L584.2 411.0L585.6 417.5L587.5 421.0L592.0 422.4L600.0 423.5L610.0 425.5L620.0 427.3L632.0 429.2L647.6 431.8L667.1 430.8L681.4 430.3L682.7 426.4L688.0 427.9L698.4 427.9L706.2 426.0L711.4 426.4L715.3 429.2L732.2 429.5L758.3 430.8L777.8 429.9L803.9 430.8L818.2 430.0L823.4 429.0L830.0 430.3L856.0 430.5L870.3 430.0L874.2 429.0L879.5 430.3L902.9 431.2L902.0 516.0Z" stroke="#000" stroke-width="1.1" fill="none" stroke-linejoin="round"/>
<path d="M584.4 200.9L721.6 200.9L721.6 407.5L596.0 421.5L591.5 421.2L588.0 419.0L585.6 415.0L584.6 409.5Z" fill="#dcdcdc" stroke="#222" stroke-width="1.1" stroke-linejoin="round"/>
<clipPath id="ct"><path d="M584.4 200.9L721.6 200.9L721.6 407.5L596.0 421.5L591.5 421.2L588.0 419.0L585.6 415.0L584.6 409.5Z"/></clipPath>
<path clip-path="url(#ct)" d="M598.1 200.9 598.5 214.2 599.1 227.6 599.6 240.9 599.8 253.9 599.5 266.7 598.7 279.3 597.6 291.7 596.5 304.0 595.7 316.3 595.5 328.8 595.7 341.6 596.5 354.7 597.4 367.9 598.1 381.4 598.5 394.8 598.5 408.1 598.1 421.2M611.8 200.9 612.7 214.4 613.8 227.6 614.4 240.3 614.3 252.5 613.2 264.4 611.4 276.1 609.3 287.9 607.6 300.0 606.7 312.6 606.9 325.7 608.1 339.3 609.8 353.2 611.6 367.2 612.8 380.9 613.2 394.3 612.7 407.2 611.8 419.7M625.6 200.9 626.9 213.8 628.1 226.0 628.4 237.7 627.5 249.2 625.4 260.6 622.8 272.5 620.2 285.0 618.6 298.3 618.4 312.2 619.7 326.5 622.0 341.0 624.7 355.2 626.9 369.0 628.0 382.0 627.9 394.5 626.9 406.4 625.6 418.1M639.3 200.9 640.8 212.7 641.7 224.1 641.4 235.5 639.6 247.3 636.8 259.7 633.8 273.0 631.6 287.0 630.8 301.6 631.8 316.3 634.3 330.9 637.6 344.8 640.6 358.0 642.7 370.3 643.2 382.0 642.4 393.3 640.8 404.8 639.3 416.6M653.0 200.9 654.4 212.2 654.7 223.8 653.7 236.1 651.3 249.2 648.3 263.0 645.7 277.5 644.3 292.2 644.8 306.6 647.0 320.5 650.4 333.5 654.0 345.7 656.7 357.1 658.0 368.0 657.7 379.0 656.2 390.3 654.3 402.3 653.0 415.1M666.7 200.9 667.7 212.8 667.4 225.5 665.8 238.9 663.3 252.9 660.8 267.1 659.1 281.2 658.9 294.8 660.6 307.6 663.5 319.5 667.1 330.7 670.2 341.4 672.0 352.0 672.3 363.0 671.2 374.6 669.3 386.9 667.5 400.0 666.7 413.6M680.4 200.9 680.8 213.7 680.1 227.1 678.4 240.7 676.4 254.3 674.7 267.5 674.1 280.1 675.0 291.9 677.2 303.1 680.2 313.9 683.1 324.6 685.2 335.5 685.9 347.0 685.3 359.1 683.8 371.9 682.0 385.2 680.7 398.7 680.4 412.1M694.2 200.9 694.1 214.0 693.3 227.0 692.0 239.9 690.7 252.4 690.0 264.3 690.3 275.8 691.5 287.0 693.5 298.0 695.8 309.3 697.6 320.9 698.5 333.0 698.4 345.6 697.4 358.6 696.0 371.9 694.7 385.1 694.0 398.0 694.2 410.5M707.9 200.9 707.7 213.5 707.1 225.8 706.5 237.9 706.0 249.8 706.0 261.5 706.4 273.2 707.4 284.9 708.5 296.8 709.6 308.9 710.2 321.4 710.4 334.0 710.0 346.8 709.2 359.6 708.4 372.3 707.8 384.8 707.6 397.0 707.9 409.0M584.4 213.9 598.5 214.2 612.7 214.4 626.9 213.8 640.8 212.7 654.4 212.2 667.7 212.8 680.8 213.7 694.1 214.0 707.7 213.5 721.6 213.1M584.4 227.0 599.1 227.6 613.8 227.6 628.1 226.0 641.7 224.1 654.7 223.8 667.4 225.5 680.1 227.1 693.3 227.0 707.1 225.8 721.6 225.2M584.4 240.0 599.6 240.9 614.4 240.3 628.4 237.7 641.4 235.5 653.7 236.1 665.8 238.9 678.4 240.7 692.0 239.9 706.5 237.9 721.6 237.4M584.4 253.1 599.8 253.9 614.3 252.5 627.5 249.2 639.6 247.3 651.3 249.2 663.3 252.9 676.4 254.3 690.7 252.4 706.0 249.8 721.6 249.5M584.4 266.1 599.5 266.7 613.2 264.4 625.4 260.6 636.8 259.7 648.3 263.0 660.8 267.1 674.7 267.5 690.0 264.3 706.0 261.5 721.6 261.7M584.4 279.2 598.7 279.3 611.4 276.1 622.8 272.5 633.8 273.0 645.7 277.5 659.1 281.2 674.1 280.1 690.3 275.8 706.4 273.2 721.6 273.8M584.4 292.2 597.6 291.7 609.3 287.9 620.2 285.0 631.6 287.0 644.3 292.2 658.9 294.8 675.0 291.9 691.5 287.0 707.4 284.9 721.6 286.0M584.4 305.3 596.5 304.0 607.6 300.0 618.6 298.3 630.8 301.6 644.8 306.6 660.6 307.6 677.2 303.1 693.5 298.0 708.5 296.8 721.6 298.1M584.4 318.3 595.7 316.3 606.7 312.6 618.4 312.2 631.8 316.3 647.0 320.5 663.5 319.5 680.2 313.9 695.8 309.3 709.6 308.9 721.6 310.3M584.4 331.4 595.5 328.8 606.9 325.7 619.7 326.5 634.3 330.9 650.4 333.5 667.1 330.7 683.1 324.6 697.6 320.9 710.2 321.4 721.6 322.4M584.4 344.4 595.7 341.6 608.1 339.3 622.0 341.0 637.6 344.8 654.0 345.7 670.2 341.4 685.2 335.5 698.5 333.0 710.4 334.0 721.6 334.6M584.4 357.5 596.5 354.7 609.8 353.2 624.7 355.2 640.6 358.0 656.7 357.1 672.0 352.0 685.9 347.0 698.4 345.6 710.0 346.8 721.6 346.7M584.4 370.5 597.4 367.9 611.6 367.2 626.9 369.0 642.7 370.3 658.0 368.0 672.3 363.0 685.3 359.1 697.4 358.6 709.2 359.6 721.6 358.9M584.4 383.6 598.1 381.4 612.8 380.9 628.0 382.0 643.2 382.0 657.7 379.0 671.2 374.6 683.8 371.9 696.0 371.9 708.4 372.3 721.6 371.0M584.4 396.6 598.5 394.8 613.2 394.3 627.9 394.5 642.4 393.3 656.2 390.3 669.3 386.9 682.0 385.2 694.7 385.1 707.8 384.8 721.6 383.2M584.4 409.7 598.5 408.1 612.7 407.2 626.9 406.4 640.8 404.8 654.3 402.3 667.5 400.0 680.7 398.7 694.0 398.0 707.6 397.0 721.6 395.3M590.1 317.3 589.9 330.1 590.1 343.0 590.4 356.1 590.9 369.2 591.3 382.5 591.5 395.7 591.5 408.9 591.3 421.9M601.2 314.5 601.2 327.3 601.9 340.5 603.2 353.9 604.5 367.6 605.5 381.1 605.9 394.5 605.6 407.6 605.0 420.4M613.3 326.1 615.1 340.2 617.3 354.2 619.3 368.1 620.4 381.5 620.6 394.4 619.8 406.8 618.7 418.9M627.0 328.7 629.8 342.9 632.7 356.6 634.8 369.6 635.6 382.0 635.1 393.9 633.8 405.6 632.4 417.4M642.3 332.2 645.8 345.3 648.7 357.5 650.3 369.2 650.4 380.5 649.3 391.8 647.5 403.5 646.1 415.9M662.1 343.5 664.4 354.5 665.2 365.5 664.4 376.8 662.7 388.6 660.9 401.1 659.9 414.3M584.4 324.8 595.6 322.6 606.8 319.2 619.0 319.4 633.0 323.6 648.7 327.0M584.4 337.9 595.6 335.2 607.5 332.5 620.9 333.8 635.9 337.9 652.2 339.6M584.4 350.9 596.1 348.1 609.0 346.3 623.4 348.1 639.1 351.4 655.3 351.4 671.1 346.7M584.4 364.0 596.9 361.3 610.7 360.2 625.8 362.1 641.6 364.1 657.4 362.6 672.2 357.5M584.4 377.0 597.8 374.7 612.2 374.0 627.5 375.5 642.9 376.2 657.8 373.5 671.7 368.8M584.4 390.1 598.3 388.1 613.0 387.6 628.0 388.2 642.8 387.7 656.9 384.6 670.2 380.7M584.4 403.1 598.5 401.4 613.0 400.7 627.4 400.4 641.6 399.1 655.2 396.3 668.4 393.5M584.4 416.2 598.3 414.6 612.3 413.4 626.2 412.3 640.0 410.7 653.6 408.7 667.1 406.8" stroke="#111" stroke-width="1.2" fill="none" stroke-linejoin="round"/>
<path d="M708 187.4L735.2 214.6M735.2 187.4L708 214.6" stroke="#2a2a2a" stroke-width="0.95" fill="none"/>
<rect x="339.5" y="65.5" width="565" height="453" rx="2" fill="none" stroke="#000" stroke-width="5"/>
<rect x="916.8" y="65.5" width="161.4" height="450.6" rx="2" fill="#fff" stroke="#000" stroke-width="5"/>
<rect x="938.8" y="90.90" width="52.6" height="34.16" fill="#ff0000"/>
<rect x="938.8" y="124.76" width="52.6" height="34.16" fill="#ff5d00"/>
<rect x="938.8" y="158.62" width="52.6" height="34.16" fill="#ffb900"/>
<rect x="938.8" y="192.47" width="52.6" height="34.16" fill="#e8ff00"/>
<rect x="938.8" y="226.33" width="52.6" height="34.16" fill="#8bff00"/>
<rect x="938.8" y="260.19" width="52.6" height="34.16" fill="#2eff00"/>
<rect x="938.8" y="294.05" width="52.6" height="34.16" fill="#00ff2e"/>
<rect x="938.8" y="327.91" width="52.6" height="34.16" fill="#00ff8b"/>
<rect x="938.8" y="361.77" width="52.6" height="34.16" fill="#00ffe8"/>
<rect x="938.8" y="395.62" width="52.6" height="34.16" fill="#00b9ff"/>
<rect x="938.8" y="429.48" width="52.6" height="34.16" fill="#005dff"/>
<rect x="938.8" y="463.34" width="52.6" height="34.16" fill="#0000ff"/>
<path d="M938.8 90.90H1005.8M938.8 124.76H1005.8M938.8 158.62H1005.8M938.8 192.47H1005.8M938.8 226.33H1005.8M938.8 260.19H1005.8M938.8 294.05H1005.8M938.8 327.91H1005.8M938.8 361.77H1005.8M938.8 395.62H1005.8M938.8 429.48H1005.8M938.8 463.34H1005.8M938.8 497.20H1005.8" stroke="#222" stroke-width="1.3" fill="none"/>
<rect x="938.8" y="90.90" width="52.6" height="406.30" fill="none" stroke="#333" stroke-width="1"/>
<g font-size="33.5" text-anchor="middle">
<text x="1037" y="99.6">646</text>
<text x="1037" y="140.2">587</text>
<text x="1037" y="180.9">528</text>
<text x="1037" y="221.5">470</text>
<text x="1037" y="262.1">411</text>
<text x="1037" y="302.8">352</text>
<text x="1037" y="343.4">293</text>
<text x="1037" y="384.0">176</text>
<text x="1037" y="424.6">117</text>
<text x="1037" y="465.3">59</text>
<text x="1037" y="505.9">32</text>
</g>
</g>
</svg>
</body></html>
